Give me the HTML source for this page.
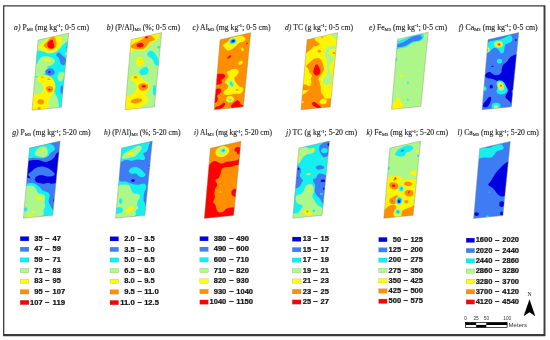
<!DOCTYPE html>
<html lang="en"><head><meta charset="utf-8"><title>Soil maps</title>
<style>
html,body{margin:0;padding:0;background:#fff;}
body{width:550px;height:340px;overflow:hidden;}
svg{display:block;}
.tt{font-family:"Liberation Serif",serif;font-size:7.5px;fill:#1a1a1a;stroke:#1a1a1a;stroke-width:0.12px;}
.lg{font-family:"Liberation Sans",sans-serif;font-weight:bold;font-size:7px;fill:#111;stroke:#111;stroke-width:0.22px;}
.sc{font-family:"Liberation Sans",sans-serif;font-size:4.7px;fill:#333;}
</style></head><body>
<svg width="550" height="340" viewBox="0 0 550 340">
<defs><filter id="soft" x="-5%" y="-5%" width="110%" height="110%"><feGaussianBlur stdDeviation="0.55"/></filter></defs>
<rect width="550" height="340" fill="#fff"/>
<!-- map a -->
<clipPath id="cp_a"><polygon points="38.1,40.1 68.7,33.1 61.3,107.3 32.0,110.2"/></clipPath>
<g clip-path="url(#cp_a)">
<g filter="url(#soft)">
<rect x="22" y="23.1" width="60" height="100" fill="#adf78a"/>
<g transform="translate(25 32) scale(0.11765)">
<path d="M95.0,178.0C105.8,148.0 132.5,164.3 150.0,165.0C167.5,165.7 181.7,180.8 200.0,182.0C218.3,183.2 243.3,179.8 260.0,172.0C276.7,164.2 287.5,147.0 300.0,135.0C312.5,123.0 321.7,107.5 335.0,100.0C348.3,92.5 372.5,49.2 380.0,90.0C387.5,130.8 429.2,302.5 380.0,345.0C330.8,387.5 132.5,372.8 85.0,345.0C37.5,317.2 84.2,208.0 95.0,178.0Z" fill="#19efef"/>
<path d="M232.0,40.0C247.5,36.2 275.0,28.7 288.0,32.0C301.0,35.3 308.0,46.7 310.0,60.0C312.0,73.3 309.2,94.5 300.0,112.0C290.8,129.5 271.7,155.0 255.0,165.0C238.3,175.0 220.0,174.2 200.0,172.0C180.0,169.8 148.7,159.8 135.0,152.0C121.3,144.2 113.8,135.3 118.0,125.0C122.2,114.7 147.2,101.7 160.0,90.0C172.8,78.3 183.0,63.3 195.0,55.0C207.0,46.7 216.5,43.8 232.0,40.0Z" fill="#fff500"/>
<path d="M215.0,52.0C225.8,44.8 242.2,39.0 250.0,42.0C257.8,45.0 259.0,59.5 262.0,70.0C265.0,80.5 270.0,93.3 268.0,105.0C266.0,116.7 260.5,132.8 250.0,140.0C239.5,147.2 218.3,150.0 205.0,148.0C191.7,146.0 177.5,134.0 170.0,128.0C162.5,122.0 157.5,119.2 160.0,112.0C162.5,104.8 175.8,95.0 185.0,85.0C194.2,75.0 204.2,59.2 215.0,52.0Z" fill="#ff8f00"/>
<path d="M195.0,90.0C199.2,83.0 208.2,73.7 215.0,70.0C221.8,66.3 231.2,63.0 236.0,68.0C240.8,73.0 241.7,90.5 244.0,100.0C246.3,109.5 252.7,118.0 250.0,125.0C247.3,132.0 236.3,140.8 228.0,142.0C219.7,143.2 206.3,137.0 200.0,132.0C193.7,127.0 190.8,119.0 190.0,112.0C189.2,105.0 190.8,97.0 195.0,90.0Z" fill="#ff0000"/>
<ellipse cx="312" cy="75" rx="11" ry="7" fill="#fff500"/>
<path d="M100.0,300.0C103.0,285.5 101.3,272.2 108.0,258.0C114.7,243.8 124.7,223.3 140.0,215.0C155.3,206.7 181.3,204.7 200.0,208.0C218.7,211.3 245.0,224.7 252.0,235.0C259.0,245.3 250.7,260.5 242.0,270.0C233.3,279.5 215.0,285.0 200.0,292.0C185.0,299.0 163.7,303.2 152.0,312.0C140.3,320.8 140.3,339.5 130.0,345.0C119.7,350.5 95.0,352.5 90.0,345.0C85.0,337.5 97.0,314.5 100.0,300.0Z" fill="#adf78a"/>
<ellipse cx="190" cy="242" rx="24" ry="14" fill="#fff500"/>
<path d="M268.0,185.0C271.3,179.8 282.7,172.3 290.0,174.0C297.3,175.7 304.3,188.2 312.0,195.0C319.7,201.8 329.5,207.5 336.0,215.0C342.5,222.5 349.3,230.8 351.0,240.0C352.7,249.2 351.2,263.0 346.0,270.0C340.8,277.0 327.7,283.3 320.0,282.0C312.3,280.7 305.0,271.5 300.0,262.0C295.0,252.5 295.0,234.5 290.0,225.0C285.0,215.5 273.7,211.7 270.0,205.0C266.3,198.3 264.7,190.2 268.0,185.0Z" fill="#3c7cf4"/>
<ellipse cx="358" cy="130" rx="6" ry="10" fill="#3c7cf4"/>
<ellipse cx="350" cy="185" rx="10" ry="12" fill="#adf78a"/>
</g>
<g transform="translate(20 72) scale(0.11765)">
<path d="M120.0,-10.0C165.8,-18.7 354.7,-62.5 395.0,-10.0C435.3,42.5 372.0,253.7 362.0,305.0C352.0,356.3 341.7,310.5 335.0,298.0C328.3,285.5 327.8,248.8 322.0,230.0C316.2,211.2 305.0,196.7 300.0,185.0C295.0,173.3 292.0,169.2 292.0,160.0C292.0,150.8 300.3,141.7 300.0,130.0C299.7,118.3 295.0,103.3 290.0,90.0C285.0,76.7 281.7,60.8 270.0,50.0C258.3,39.2 236.7,29.2 220.0,25.0C203.3,20.8 183.3,21.7 170.0,25.0C156.7,28.3 148.3,42.2 140.0,45.0C131.7,47.8 123.3,51.2 120.0,42.0C116.7,32.8 74.2,-1.3 120.0,-10.0Z" fill="#19efef"/>
<path d="M320.0,35.0C324.2,28.3 341.3,22.5 350.0,25.0C358.7,27.5 372.0,40.8 372.0,50.0C372.0,59.2 357.8,77.5 350.0,80.0C342.2,82.5 330.0,72.5 325.0,65.0C320.0,57.5 315.8,41.7 320.0,35.0Z" fill="#adf78a"/>
<ellipse cx="356" cy="150" rx="12" ry="36" fill="#3c7cf4"/>
<path d="M160.0,35.0C168.3,27.5 181.7,22.5 200.0,25.0C218.3,27.5 254.2,39.2 270.0,50.0C285.8,60.8 290.0,76.7 295.0,90.0C300.0,103.3 301.2,117.5 300.0,130.0C298.8,142.5 293.0,154.2 288.0,165.0C283.0,175.8 276.0,184.2 270.0,195.0C264.0,205.8 257.0,219.2 252.0,230.0C247.0,240.8 242.8,247.5 240.0,260.0C237.2,272.5 259.2,293.3 235.0,305.0C210.8,316.7 116.2,347.5 95.0,330.0C73.8,312.5 95.5,223.7 108.0,200.0C120.5,176.3 155.0,196.3 170.0,188.0C185.0,179.7 194.7,163.8 198.0,150.0C201.3,136.2 198.0,118.3 190.0,105.0C182.0,91.7 155.0,81.7 150.0,70.0C145.0,58.3 151.7,42.5 160.0,35.0Z" fill="#fff500"/>
<ellipse cx="190" cy="45" rx="12" ry="7" fill="#ff8f00"/>
<ellipse cx="245" cy="62" rx="14" ry="6" fill="#ff8f00"/>
<path d="M225.0,130.0C229.7,125.0 241.2,118.0 250.0,118.0C258.8,118.0 273.0,123.3 278.0,130.0C283.0,136.7 283.3,151.0 280.0,158.0C276.7,165.0 266.0,170.8 258.0,172.0C250.0,173.2 238.0,169.0 232.0,165.0C226.0,161.0 223.2,153.8 222.0,148.0C220.8,142.2 220.3,135.0 225.0,130.0Z" fill="#ff8f00"/>
<ellipse cx="250" cy="150" rx="9" ry="8" fill="#ff0000"/>
<ellipse cx="176" cy="254" rx="28" ry="22" fill="#ff8f00" transform="rotate(10 176 254)"/>
<ellipse cx="162" cy="310" rx="14" ry="13" fill="#ff8f00" transform="rotate(-30 162 310)"/>
</g>
<g transform="translate(24 60) scale(0.11765)">
<path d="M95.0,45.0C101.7,27.5 113.3,35.8 125.0,35.0C136.7,34.2 153.3,36.2 165.0,40.0C176.7,43.8 189.2,50.5 195.0,58.0C200.8,65.5 202.5,76.0 200.0,85.0C197.5,94.0 188.3,104.5 180.0,112.0C171.7,119.5 161.3,125.8 150.0,130.0C138.7,134.2 122.8,135.3 112.0,137.0C101.2,138.7 87.8,155.3 85.0,140.0C82.2,124.7 88.3,62.5 95.0,45.0Z" fill="#adf78a"/>
<path d="M180.0,95.0C182.5,87.5 195.0,78.3 205.0,75.0C215.0,71.7 230.7,70.8 240.0,75.0C249.3,79.2 259.3,91.7 261.0,100.0C262.7,108.3 257.7,119.8 250.0,125.0C242.3,130.2 225.0,131.8 215.0,131.0C205.0,130.2 195.8,126.0 190.0,120.0C184.2,114.0 177.5,102.5 180.0,95.0Z" fill="#3c7cf4"/>
<ellipse cx="215" cy="103" rx="10" ry="7" fill="#0000e0"/>
<path d="M292.0,118.0C294.5,112.5 306.7,106.7 315.0,105.0C323.3,103.3 336.2,104.2 342.0,108.0C347.8,111.8 352.0,122.7 350.0,128.0C348.0,133.3 338.3,138.3 330.0,140.0C321.7,141.7 306.3,141.7 300.0,138.0C293.7,134.3 289.5,123.5 292.0,118.0Z" fill="#adf78a"/>
</g>
</g></g>
<polygon points="38.1,40.1 68.7,33.1 61.3,107.3 32.0,110.2" fill="none" stroke="#8a8a6a" stroke-width="0.5" stroke-opacity="0.8"/>
<!-- map b -->
<clipPath id="cp_b"><polygon points="131.1,39.6 161.7,32.6 154.3,106.8 125.0,109.7"/></clipPath>
<g clip-path="url(#cp_b)">
<g filter="url(#soft)">
<rect x="115" y="22.6" width="60" height="100" fill="#adf78a"/>
<g transform="translate(118 32) scale(0.11765)">
<path d="M105.0,65.0C126.7,41.8 197.5,40.8 230.0,33.0C262.5,25.2 280.3,21.8 300.0,18.0C319.7,14.2 341.0,4.7 348.0,10.0C355.0,15.3 349.7,37.5 342.0,50.0C334.3,62.5 315.0,75.0 302.0,85.0C289.0,95.0 274.0,100.0 264.0,110.0C254.0,120.0 252.7,136.3 242.0,145.0C231.3,153.7 215.3,160.8 200.0,162.0C184.7,163.2 166.7,150.3 150.0,152.0C133.3,153.7 107.5,186.5 100.0,172.0C92.5,157.5 83.3,88.2 105.0,65.0Z" fill="#fff500"/>
<path d="M230.0,40.0C240.8,33.8 253.3,27.2 265.0,28.0C276.7,28.8 292.2,38.0 300.0,45.0C307.8,52.0 316.7,64.2 312.0,70.0C307.3,75.8 282.0,73.3 272.0,80.0C262.0,86.7 260.3,100.0 252.0,110.0C243.7,120.0 235.7,133.8 222.0,140.0C208.3,146.2 187.0,147.5 170.0,147.0C153.0,146.5 129.5,142.8 120.0,137.0C110.5,131.2 106.3,120.7 113.0,112.0C119.7,103.3 145.5,92.8 160.0,85.0C174.5,77.2 188.3,72.5 200.0,65.0C211.7,57.5 219.2,46.2 230.0,40.0Z" fill="#ff8f00"/>
<ellipse cx="188" cy="112" rx="30" ry="19" fill="#ff0000" transform="rotate(-8 188 112)"/>
<ellipse cx="242" cy="45" rx="12" ry="10" fill="#ff0000"/>
<path d="M250.0,180.0C254.2,173.3 266.3,162.0 275.0,160.0C283.7,158.0 293.5,161.7 302.0,168.0C310.5,174.3 318.7,186.0 326.0,198.0C333.3,210.0 343.2,225.5 346.0,240.0C348.8,254.5 348.7,279.3 343.0,285.0C337.3,290.7 320.0,282.3 312.0,274.0C304.0,265.7 302.0,244.8 295.0,235.0C288.0,225.2 277.5,220.8 270.0,215.0C262.5,209.2 253.3,205.8 250.0,200.0C246.7,194.2 245.8,186.7 250.0,180.0Z" fill="#19efef"/>
<ellipse cx="347" cy="130" rx="15" ry="12" fill="#19efef"/>
<path d="M160.0,225.0C165.0,215.8 175.8,208.3 185.0,210.0C194.2,211.7 209.0,226.7 215.0,235.0C221.0,243.3 223.5,251.7 221.0,260.0C218.5,268.3 208.5,279.8 200.0,285.0C191.5,290.2 177.5,294.3 170.0,291.0C162.5,287.7 156.7,276.0 155.0,265.0C153.3,254.0 155.0,234.2 160.0,225.0Z" fill="#fff500"/>
<ellipse cx="185" cy="232" rx="5" ry="4" fill="#ff8f00"/>
</g>
<g transform="translate(113 72) scale(0.11765)">
<ellipse cx="352" cy="155" rx="14" ry="45" fill="#19efef"/>
<ellipse cx="352" cy="287" rx="7" ry="6" fill="#19efef"/>
<path d="M150.0,45.0C154.2,36.7 167.5,27.5 180.0,25.0C192.5,22.5 213.3,24.2 225.0,30.0C236.7,35.8 239.2,50.0 250.0,60.0C260.8,70.0 280.0,80.0 290.0,90.0C300.0,100.0 308.3,108.3 310.0,120.0C311.7,131.7 305.8,148.3 300.0,160.0C294.2,171.7 276.7,180.0 275.0,190.0C273.3,200.0 285.0,210.8 290.0,220.0C295.0,229.2 305.8,237.5 305.0,245.0C304.2,252.5 294.2,259.2 285.0,265.0C275.8,270.8 258.3,273.3 250.0,280.0C241.7,286.7 260.8,296.7 235.0,305.0C209.2,313.3 116.5,345.8 95.0,330.0C73.5,314.2 96.8,231.7 106.0,210.0C115.2,188.3 136.8,206.7 150.0,200.0C163.2,193.3 176.7,181.7 185.0,170.0C193.3,158.3 200.0,143.3 200.0,130.0C200.0,116.7 192.5,99.2 185.0,90.0C177.5,80.8 160.8,82.5 155.0,75.0C149.2,67.5 145.8,53.3 150.0,45.0Z" fill="#fff500"/>
<ellipse cx="190" cy="45" rx="13" ry="10" fill="#ff8f00"/>
<path d="M220.0,110.0C225.0,102.5 238.3,95.8 250.0,95.0C261.7,94.2 282.0,99.2 290.0,105.0C298.0,110.8 299.7,122.5 298.0,130.0C296.3,137.5 288.8,145.0 280.0,150.0C271.2,155.0 255.0,161.7 245.0,160.0C235.0,158.3 224.2,148.3 220.0,140.0C215.8,131.7 215.0,117.5 220.0,110.0Z" fill="#ff8f00"/>
<ellipse cx="262" cy="122" rx="16" ry="12" fill="#ff0000"/>
<ellipse cx="200" cy="245" rx="50" ry="21" fill="#ff8f00" transform="rotate(-10 200 245)"/>
</g>
<g transform="translate(116 52) scale(0.11765)">
<path d="M198.0,165.0C201.0,157.0 214.3,144.0 225.0,138.0C235.7,132.0 253.5,126.2 262.0,129.0C270.5,131.8 275.8,145.5 276.0,155.0C276.2,164.5 270.3,179.2 263.0,186.0C255.7,192.8 241.3,196.0 232.0,196.0C222.7,196.0 212.7,191.2 207.0,186.0C201.3,180.8 195.0,173.0 198.0,165.0Z" fill="#19efef"/>
</g>
</g></g>
<polygon points="131.1,39.6 161.7,32.6 154.3,106.8 125.0,109.7" fill="none" stroke="#8a8a6a" stroke-width="0.5" stroke-opacity="0.8"/>
<!-- map c -->
<clipPath id="cp_c"><polygon points="220.1,39.7 250.7,32.7 243.3,106.9 214.0,109.8"/></clipPath>
<g clip-path="url(#cp_c)">
<g filter="url(#soft)">
<rect x="204" y="22.7" width="60" height="100" fill="#ff8f00"/>
<g transform="translate(207 32) scale(0.11765)">
<path d="M135.0,110.0C139.2,102.2 164.2,94.2 175.0,85.0C185.8,75.8 187.5,62.8 200.0,55.0C212.5,47.2 233.3,41.7 250.0,38.0C266.7,34.3 287.2,29.3 300.0,33.0C312.8,36.7 325.3,52.2 327.0,60.0C328.7,67.8 319.5,74.2 310.0,80.0C300.5,85.8 281.7,87.5 270.0,95.0C258.3,102.5 251.7,115.8 240.0,125.0C228.3,134.2 211.7,144.8 200.0,150.0C188.3,155.2 178.3,159.0 170.0,156.0C161.7,153.0 155.8,139.7 150.0,132.0C144.2,124.3 130.8,117.8 135.0,110.0Z" fill="#fff500"/>
<ellipse cx="218" cy="80" rx="36" ry="27" fill="#adf78a" transform="rotate(-20 218 80)"/>
<ellipse cx="219" cy="79" rx="28" ry="21" fill="#19efef" transform="rotate(-20 219 79)"/>
<ellipse cx="221" cy="78" rx="20" ry="15" fill="#3c7cf4" transform="rotate(-15 221 78)"/>
<ellipse cx="224" cy="76" rx="11" ry="8" fill="#0000e0" transform="rotate(-10 224 76)"/>
<ellipse cx="340" cy="97" rx="10" ry="5" fill="#ff0000" transform="rotate(-30 340 97)"/>
<ellipse cx="190" cy="213" rx="21" ry="8" fill="#ff0000" transform="rotate(-40 190 213)"/>
<ellipse cx="300" cy="148" rx="11" ry="16" fill="#fff500" transform="rotate(-20 300 148)"/>
<ellipse cx="285" cy="262" rx="22" ry="15" fill="#fff500" transform="rotate(-35 285 262)"/>
<ellipse cx="228" cy="340" rx="42" ry="25" fill="#fff500" transform="rotate(-8 228 340)"/>
</g>
<g transform="translate(202 72) scale(0.11765)">
<path d="M215.0,-5.0C228.2,-12.5 291.7,-10.8 305.0,-5.0C318.3,0.8 300.0,20.5 295.0,30.0C290.0,39.5 276.2,42.0 275.0,52.0C273.8,62.0 280.5,77.8 288.0,90.0C295.5,102.2 309.7,117.5 320.0,125.0C330.3,132.5 345.8,128.3 350.0,135.0C354.2,141.7 350.0,156.7 345.0,165.0C340.0,173.3 330.8,181.7 320.0,185.0C309.2,188.3 295.0,183.2 280.0,185.0C265.0,186.8 245.0,195.2 230.0,196.0C215.0,196.8 197.5,195.2 190.0,190.0C182.5,184.8 180.8,173.3 185.0,165.0C189.2,156.7 208.8,148.3 215.0,140.0C221.2,131.7 225.2,123.3 222.0,115.0C218.8,106.7 198.3,98.8 196.0,90.0C193.7,81.2 203.0,70.3 208.0,62.0C213.0,53.7 224.8,51.2 226.0,40.0C227.2,28.8 201.8,2.5 215.0,-5.0Z" fill="#fff500"/>
<ellipse cx="246" cy="100" rx="23" ry="32" fill="#adf78a" transform="rotate(-28 246 100)"/>
<ellipse cx="250" cy="102" rx="12" ry="21" fill="#19efef" transform="rotate(-28 250 102)"/>
<ellipse cx="298" cy="152" rx="12" ry="8" fill="#ff8f00"/>
<ellipse cx="238" cy="232" rx="32" ry="27" fill="#fff500"/>
<ellipse cx="238" cy="235" rx="18" ry="14" fill="#adf78a"/>
<ellipse cx="240" cy="238" rx="8" ry="6" fill="#19efef"/>
<path d="M115.0,30.0C122.5,15.8 146.7,15.8 160.0,15.0C173.3,14.2 190.0,19.2 195.0,25.0C200.0,30.8 195.0,43.3 190.0,50.0C185.0,56.7 168.3,58.3 165.0,65.0C161.7,71.7 172.5,83.3 170.0,90.0C167.5,96.7 159.2,103.3 150.0,105.0C140.8,106.7 120.8,112.5 115.0,100.0C109.2,87.5 107.5,44.2 115.0,30.0Z" fill="#ff0000"/>
<path d="M110.0,150.0C118.3,143.3 140.8,138.3 150.0,140.0C159.2,141.7 165.0,152.5 165.0,160.0C165.0,167.5 155.8,178.3 150.0,185.0C144.2,191.7 132.5,192.5 130.0,200.0C127.5,207.5 135.8,220.8 135.0,230.0C134.2,239.2 131.7,250.3 125.0,255.0C118.3,259.7 99.2,270.5 95.0,258.0C90.8,245.5 97.5,198.0 100.0,180.0C102.5,162.0 101.7,156.7 110.0,150.0Z" fill="#ff0000"/>
<path d="M115.0,300.0C122.5,293.3 148.3,286.7 160.0,280.0C171.7,273.3 179.0,260.8 185.0,260.0C191.0,259.2 196.8,268.3 196.0,275.0C195.2,281.7 187.7,293.3 180.0,300.0C172.3,306.7 160.8,311.7 150.0,315.0C139.2,318.3 120.8,322.5 115.0,320.0C109.2,317.5 107.5,306.7 115.0,300.0Z" fill="#ff0000"/>
<path d="M245.0,290.0C245.8,283.2 255.8,273.3 265.0,265.0C274.2,256.7 290.8,241.7 300.0,240.0C309.2,238.3 315.0,249.2 320.0,255.0C325.0,260.8 324.2,269.2 330.0,275.0C335.8,280.8 360.0,285.5 355.0,290.0C350.0,294.5 315.8,299.3 300.0,302.0C284.2,304.7 269.2,308.0 260.0,306.0C250.8,304.0 244.2,296.8 245.0,290.0Z" fill="#ff0000"/>
</g>
</g></g>
<polygon points="220.1,39.7 250.7,32.7 243.3,106.9 214.0,109.8" fill="none" stroke="#8a8a6a" stroke-width="0.5" stroke-opacity="0.8"/>
<!-- map d -->
<clipPath id="cp_d"><polygon points="307.1,39.7 337.7,32.7 330.3,106.9 301.0,109.8"/></clipPath>
<g clip-path="url(#cp_d)">
<g filter="url(#soft)">
<rect x="291" y="22.7" width="60" height="100" fill="#fff500"/>
<g transform="translate(294 32) scale(0.11765)">
<path d="M100.0,60.0C112.5,39.7 155.8,47.5 170.0,50.0C184.2,52.5 177.3,66.7 185.0,75.0C192.7,83.3 213.5,93.2 216.0,100.0C218.5,106.8 208.5,111.8 200.0,116.0C191.5,120.2 176.7,117.7 165.0,125.0C153.3,132.3 141.7,152.2 130.0,160.0C118.3,167.8 100.0,188.7 95.0,172.0C90.0,155.3 87.5,80.3 100.0,60.0Z" fill="#ff8f00"/>
<ellipse cx="240" cy="45" rx="8" ry="8" fill="#ff8f00"/>
<ellipse cx="215" cy="163" rx="15" ry="12" fill="#ff8f00"/>
<ellipse cx="340" cy="178" rx="13" ry="9" fill="#ff8f00"/>
<path d="M325.0,20.0C335.0,12.5 380.0,-7.0 390.0,0.0C400.0,7.0 391.7,52.7 385.0,62.0C378.3,71.3 359.2,58.8 350.0,56.0C340.8,53.2 334.2,51.0 330.0,45.0C325.8,39.0 315.0,27.5 325.0,20.0Z" fill="#adf78a"/>
<path d="M265.0,150.0C269.5,139.2 275.8,131.0 285.0,125.0C294.2,119.0 308.8,114.8 320.0,114.0C331.2,113.2 346.2,115.7 352.0,120.0C357.8,124.3 360.3,135.7 355.0,140.0C349.7,144.3 329.2,142.7 320.0,146.0C310.8,149.3 304.2,152.7 300.0,160.0C295.8,167.3 293.3,180.8 295.0,190.0C296.7,199.2 310.0,207.3 310.0,215.0C310.0,222.7 301.7,234.2 295.0,236.0C288.3,237.8 276.2,233.7 270.0,226.0C263.8,218.3 258.8,202.7 258.0,190.0C257.2,177.3 260.5,160.8 265.0,150.0Z" fill="#adf78a"/>
<path d="M92.0,292.0C99.0,277.8 118.7,274.5 130.0,265.0C141.3,255.5 148.3,242.2 160.0,235.0C171.7,227.8 187.3,220.3 200.0,222.0C212.7,223.7 226.7,233.7 236.0,245.0C245.3,256.3 251.0,272.5 256.0,290.0C261.0,307.5 294.0,340.0 266.0,350.0C238.0,360.0 117.0,359.7 88.0,350.0C59.0,340.3 85.0,306.2 92.0,292.0Z" fill="#ff8f00"/>
<path d="M165.0,350.0C156.0,342.5 170.0,316.7 175.0,305.0C180.0,293.3 188.2,280.8 195.0,280.0C201.8,279.2 210.3,288.3 216.0,300.0C221.7,311.7 237.5,341.7 229.0,350.0C220.5,358.3 174.0,357.5 165.0,350.0Z" fill="#ff0000"/>
<path d="M288.0,305.0C293.8,293.7 309.0,282.8 318.0,282.0C327.0,281.2 338.7,288.7 342.0,300.0C345.3,311.3 347.8,341.7 338.0,350.0C328.2,358.3 291.3,357.5 283.0,350.0C274.7,342.5 282.2,316.3 288.0,305.0Z" fill="#adf78a"/>
</g>
<g transform="translate(289 72) scale(0.11765)">
<path d="M290.0,60.0C292.5,49.2 308.3,41.7 320.0,35.0C331.7,28.3 347.5,23.3 360.0,20.0C372.5,16.7 390.8,1.7 395.0,15.0C399.2,28.3 394.2,84.8 385.0,100.0C375.8,115.2 353.3,106.0 340.0,106.0C326.7,106.0 313.3,107.7 305.0,100.0C296.7,92.3 287.5,70.8 290.0,60.0Z" fill="#adf78a"/>
<path d="M180.0,-8.0C196.3,-14.3 273.8,-17.7 288.0,-8.0C302.2,1.7 267.2,32.0 265.0,50.0C262.8,68.0 275.0,83.3 275.0,100.0C275.0,116.7 262.5,133.3 265.0,150.0C267.5,166.7 282.5,187.5 290.0,200.0C297.5,212.5 301.7,220.8 310.0,225.0C318.3,229.2 330.8,223.3 340.0,225.0C349.2,226.7 361.7,221.7 365.0,235.0C368.3,248.3 406.7,289.2 360.0,305.0C313.3,320.8 129.0,340.8 85.0,330.0C41.0,319.2 91.8,261.7 96.0,240.0C100.2,218.3 101.0,211.7 110.0,200.0C119.0,188.3 139.2,180.8 150.0,170.0C160.8,159.2 169.2,148.3 175.0,135.0C180.8,121.7 180.8,102.5 185.0,90.0C189.2,77.5 199.2,70.0 200.0,60.0C200.8,50.0 193.3,41.3 190.0,30.0C186.7,18.7 163.7,-1.7 180.0,-8.0Z" fill="#ff8f00"/>
<path d="M112.0,115.0C118.3,107.2 138.7,103.3 150.0,105.0C161.3,106.7 178.3,117.5 180.0,125.0C181.7,132.5 171.3,145.5 160.0,150.0C148.7,154.5 120.0,157.8 112.0,152.0C104.0,146.2 105.7,122.8 112.0,115.0Z" fill="#ff8f00"/>
<path d="M265.0,240.0C270.5,233.8 285.8,225.0 295.0,225.0C304.2,225.0 316.7,233.3 320.0,240.0C323.3,246.7 321.7,259.2 315.0,265.0C308.3,270.8 288.8,275.5 280.0,275.0C271.2,274.5 264.5,267.8 262.0,262.0C259.5,256.2 259.5,246.2 265.0,240.0Z" fill="#fff500"/>
<ellipse cx="114" cy="255" rx="10" ry="10" fill="#fff500"/>
<ellipse cx="232" cy="3" rx="28" ry="20" fill="#ff0000"/>
<path d="M195.0,265.0C195.8,259.2 206.7,253.3 215.0,255.0C223.3,256.7 235.5,267.2 245.0,275.0C254.5,282.8 272.8,296.8 272.0,302.0C271.2,307.2 250.3,308.0 240.0,306.0C229.7,304.0 217.5,296.8 210.0,290.0C202.5,283.2 194.2,270.8 195.0,265.0Z" fill="#ff0000"/>
</g>
<g transform="translate(292 52) scale(0.11765)">
<polygon points="60,75 420,75 420,290 60,290" fill="#fff500"/>
<path d="M285.0,30.0C286.7,21.7 300.0,19.2 310.0,20.0C320.0,20.8 338.0,26.7 345.0,35.0C352.0,43.3 354.2,60.0 352.0,70.0C349.8,80.0 338.7,86.7 332.0,95.0C325.3,103.3 313.7,110.8 312.0,120.0C310.3,129.2 317.8,139.2 322.0,150.0C326.2,160.8 333.7,171.7 337.0,185.0C340.3,198.3 342.8,216.7 342.0,230.0C341.2,243.3 339.8,256.5 332.0,265.0C324.2,273.5 306.2,280.8 295.0,281.0C283.8,281.2 270.7,273.7 265.0,266.0C259.3,258.3 257.7,245.2 261.0,235.0C264.3,224.8 278.5,215.0 285.0,205.0C291.5,195.0 298.3,185.8 300.0,175.0C301.7,164.2 296.7,152.5 295.0,140.0C293.3,127.5 289.2,111.7 290.0,100.0C290.8,88.3 300.8,81.7 300.0,70.0C299.2,58.3 283.3,38.3 285.0,30.0Z" fill="#adf78a"/>
<path d="M120.0,122.0C122.0,113.3 138.3,100.3 150.0,90.0C161.7,79.7 177.5,66.0 190.0,60.0C202.5,54.0 215.0,51.5 225.0,54.0C235.0,56.5 243.3,65.7 250.0,75.0C256.7,84.3 261.5,97.5 265.0,110.0C268.5,122.5 272.7,138.3 271.0,150.0C269.3,161.7 260.2,171.7 255.0,180.0C249.8,188.3 245.0,191.7 240.0,200.0C235.0,208.3 225.8,220.0 225.0,230.0C224.2,240.0 232.2,248.3 235.0,260.0C237.8,271.7 241.5,285.0 242.0,300.0C242.5,315.0 253.3,341.7 238.0,350.0C222.7,358.3 164.2,358.3 150.0,350.0C135.8,341.7 150.5,315.0 153.0,300.0C155.5,285.0 163.8,271.7 165.0,260.0C166.2,248.3 159.2,240.0 160.0,230.0C160.8,220.0 171.7,209.2 170.0,200.0C168.3,190.8 155.3,184.7 150.0,175.0C144.7,165.3 143.0,150.8 138.0,142.0C133.0,133.2 118.0,130.7 120.0,122.0Z" fill="#ff8f00"/>
<path d="M195.0,120.0C200.2,109.8 206.5,103.2 212.0,104.0C217.5,104.8 223.2,115.7 228.0,125.0C232.8,134.3 240.3,149.2 241.0,160.0C241.7,170.8 237.2,183.2 232.0,190.0C226.8,196.8 217.0,201.0 210.0,201.0C203.0,201.0 194.8,196.0 190.0,190.0C185.2,184.0 180.2,176.7 181.0,165.0C181.8,153.3 189.8,130.2 195.0,120.0Z" fill="#ff0000"/>
<path d="M80.0,290.0C85.0,283.2 100.8,275.0 110.0,275.0C119.2,275.0 129.8,284.2 135.0,290.0C140.2,295.8 145.2,304.8 141.0,310.0C136.8,315.2 120.2,320.0 110.0,321.0C99.8,322.0 85.0,321.2 80.0,316.0C75.0,310.8 75.0,296.8 80.0,290.0Z" fill="#ff8f00"/>
</g>
</g></g>
<polygon points="307.1,39.7 337.7,32.7 330.3,106.9 301.0,109.8" fill="none" stroke="#8a8a6a" stroke-width="0.5" stroke-opacity="0.8"/>
<!-- map e -->
<clipPath id="cp_e"><polygon points="397.6,39.2 428.2,32.2 420.8,106.4 391.5,109.3"/></clipPath>
<g clip-path="url(#cp_e)">
<g filter="url(#soft)">
<rect x="381.5" y="22.2" width="60" height="100" fill="#adf78a"/>
<g transform="translate(384 31) scale(0.11765)">
<path d="M100.0,95.0C108.3,82.2 133.3,81.7 150.0,75.0C166.7,68.3 185.0,61.7 200.0,55.0C215.0,48.3 223.3,40.8 240.0,35.0C256.7,29.2 284.7,21.7 300.0,20.0C315.3,18.3 326.0,18.3 332.0,25.0C338.0,31.7 339.7,50.0 336.0,60.0C332.3,70.0 322.7,79.2 310.0,85.0C297.3,90.8 275.0,90.0 260.0,95.0C245.0,100.0 231.7,108.3 220.0,115.0C208.3,121.7 203.3,129.8 190.0,135.0C176.7,140.2 155.0,143.2 140.0,146.0C125.0,148.8 106.7,160.5 100.0,152.0C93.3,143.5 91.7,107.8 100.0,95.0Z" fill="#19efef"/>
<path d="M100.0,120.0C108.3,113.8 135.0,106.7 150.0,100.0C165.0,93.3 177.5,87.5 190.0,80.0C202.5,72.5 211.7,61.7 225.0,55.0C238.3,48.3 255.8,42.8 270.0,40.0C284.2,37.2 301.3,34.7 310.0,38.0C318.7,41.3 323.7,53.0 322.0,60.0C320.3,67.0 312.0,75.3 300.0,80.0C288.0,84.7 264.2,83.3 250.0,88.0C235.8,92.7 225.8,101.8 215.0,108.0C204.2,114.2 197.5,120.5 185.0,125.0C172.5,129.5 154.2,133.0 140.0,135.0C125.8,137.0 106.7,139.5 100.0,137.0C93.3,134.5 91.7,126.2 100.0,120.0Z" fill="#3c7cf4"/>
<ellipse cx="97" cy="243" rx="12" ry="20" fill="#19efef"/>
<ellipse cx="96" cy="243" rx="8" ry="14" fill="#3c7cf4"/>
</g>
<g transform="translate(379 71) scale(0.11765)">
<ellipse cx="192" cy="40" rx="12" ry="12" fill="#fff500"/>
<ellipse cx="245" cy="100" rx="8" ry="8" fill="#19efef"/>
<ellipse cx="245" cy="243" rx="8" ry="8" fill="#19efef"/>
<path d="M88.0,330.0C73.7,325.0 101.3,302.5 110.0,290.0C118.7,277.5 131.7,265.8 140.0,255.0C148.3,244.2 153.7,228.3 160.0,225.0C166.3,221.7 173.8,228.3 178.0,235.0C182.2,241.7 181.3,255.8 185.0,265.0C188.7,274.2 198.2,280.8 200.0,290.0C201.8,299.2 214.7,313.3 196.0,320.0C177.3,326.7 102.3,335.0 88.0,330.0Z" fill="#fff500"/>
</g>
</g></g>
<polygon points="397.6,39.2 428.2,32.2 420.8,106.4 391.5,109.3" fill="none" stroke="#8a8a6a" stroke-width="0.5" stroke-opacity="0.8"/>
<!-- map f -->
<clipPath id="cp_f"><polygon points="488.1,39.6 518.7,32.6 511.3,106.8 482.0,109.7"/></clipPath>
<g clip-path="url(#cp_f)">
<g filter="url(#soft)">
<rect x="472" y="22.6" width="60" height="100" fill="#3c7cf4"/>
<g transform="translate(473 52) scale(0.11765)">
<path d="M400.0,10.0C397.5,-66.7 395.0,11.7 385.0,15.0C375.0,18.3 352.5,24.2 340.0,30.0C327.5,35.8 318.3,41.7 310.0,50.0C301.7,58.3 298.3,70.8 290.0,80.0C281.7,89.2 267.5,95.0 260.0,105.0C252.5,115.0 248.3,128.3 245.0,140.0C241.7,151.7 245.0,165.8 240.0,175.0C235.0,184.2 224.2,191.7 215.0,195.0C205.8,198.3 194.2,197.5 185.0,195.0C175.8,192.5 167.5,184.2 160.0,180.0C152.5,175.8 147.5,170.0 140.0,170.0C132.5,170.0 122.0,175.0 115.0,180.0C108.0,185.0 98.5,194.0 98.0,200.0C97.5,206.0 103.3,211.7 112.0,216.0C120.7,220.3 137.8,222.7 150.0,226.0C162.2,229.3 174.2,232.0 185.0,236.0C195.8,240.0 205.0,248.3 215.0,250.0C225.0,251.7 236.7,242.7 245.0,246.0C253.3,249.3 258.3,261.0 265.0,270.0C271.7,279.0 278.8,290.8 285.0,300.0C291.2,309.2 301.2,316.7 302.0,325.0C302.8,333.3 294.3,340.5 290.0,350.0C285.7,359.5 274.3,372.0 276.0,382.0C277.7,392.0 293.0,402.3 300.0,410.0C307.0,417.7 311.7,417.2 318.0,428.0C324.3,438.8 324.3,467.2 338.0,475.0C351.7,482.8 389.7,552.5 400.0,475.0C410.3,397.5 402.5,86.7 400.0,10.0Z" fill="#0000e0"/>
</g>
<g transform="translate(475 32) scale(0.11765)">
<path d="M110.0,95.0C118.3,78.0 135.0,79.8 150.0,75.0C165.0,70.2 183.3,70.5 200.0,66.0C216.7,61.5 233.3,54.3 250.0,48.0C266.7,41.7 288.5,26.0 300.0,28.0C311.5,30.0 319.0,49.7 319.0,60.0C319.0,70.3 309.8,82.5 300.0,90.0C290.2,97.5 268.3,96.7 260.0,105.0C251.7,113.3 252.5,129.2 250.0,140.0C247.5,150.8 250.0,163.2 245.0,170.0C240.0,176.8 227.5,184.3 220.0,181.0C212.5,177.7 210.0,157.7 200.0,150.0C190.0,142.3 172.5,132.5 160.0,135.0C147.5,137.5 135.0,158.0 125.0,165.0C115.0,172.0 102.5,188.7 100.0,177.0C97.5,165.3 101.7,112.0 110.0,95.0Z" fill="#19efef"/>
<ellipse cx="200" cy="105" rx="38" ry="28" fill="#adf78a"/>
<ellipse cx="202" cy="105" rx="26" ry="20" fill="#fff500"/>
<ellipse cx="204" cy="106" rx="15" ry="12" fill="#ff8f00"/>
<ellipse cx="206" cy="107" rx="7" ry="6" fill="#ff0000"/>
<ellipse cx="108" cy="150" rx="18" ry="22" fill="#adf78a"/>
<ellipse cx="106" cy="151" rx="12" ry="16" fill="#fff500"/>
<ellipse cx="104" cy="152" rx="7" ry="10" fill="#ff8f00"/>
<ellipse cx="208" cy="248" rx="22" ry="20" fill="#19efef"/>
<ellipse cx="348" cy="68" rx="10" ry="7" fill="#0000e0"/>
<ellipse cx="148" cy="292" rx="10" ry="6" fill="#0000e0"/>
</g>
<g transform="translate(470 72) scale(0.11765)">
<ellipse cx="362" cy="165" rx="8" ry="15" fill="#3c7cf4"/>
<ellipse cx="180" cy="125" rx="14" ry="16" fill="#0000e0"/>
<path d="M130.0,250.0C137.3,241.7 151.7,220.8 160.0,215.0C168.3,209.2 177.5,209.2 180.0,215.0C182.5,220.8 178.3,239.2 175.0,250.0C171.7,260.8 165.8,271.7 160.0,280.0C154.2,288.3 148.0,297.3 140.0,300.0C132.0,302.7 116.0,301.8 112.0,296.0C108.0,290.2 113.0,272.7 116.0,265.0C119.0,257.3 122.7,258.3 130.0,250.0Z" fill="#0000e0"/>
<path d="M225.0,90.0C227.5,80.0 240.0,70.8 250.0,70.0C260.0,69.2 275.8,76.7 285.0,85.0C294.2,93.3 300.0,107.5 305.0,120.0C310.0,132.5 316.7,149.2 315.0,160.0C313.3,170.8 305.8,180.0 295.0,185.0C284.2,190.0 261.7,193.3 250.0,190.0C238.3,186.7 227.5,175.0 225.0,165.0C222.5,155.0 235.0,142.5 235.0,130.0C235.0,117.5 222.5,100.0 225.0,90.0Z" fill="#19efef"/>
<ellipse cx="262" cy="122" rx="27" ry="38" fill="#adf78a" transform="rotate(-20 262 122)"/>
<ellipse cx="258" cy="112" rx="19" ry="26" fill="#fff500" transform="rotate(-25 258 112)"/>
<ellipse cx="262" cy="116" rx="10" ry="10" fill="#ff8f00"/>
<ellipse cx="263" cy="117" rx="4" ry="4" fill="#ff0000"/>
<ellipse cx="126" cy="140" rx="14" ry="22" fill="#19efef"/>
<ellipse cx="120" cy="140" rx="6" ry="10" fill="#adf78a"/>
<ellipse cx="222" cy="290" rx="38" ry="28" fill="#19efef"/>
<ellipse cx="222" cy="298" rx="20" ry="16" fill="#adf78a"/>
<ellipse cx="220" cy="302" rx="9" ry="8" fill="#fff500"/>
</g>
</g></g>
<polygon points="488.1,39.6 518.7,32.6 511.3,106.8 482.0,109.7" fill="none" stroke="#8a8a6a" stroke-width="0.5" stroke-opacity="0.8"/>
<!-- map g -->
<clipPath id="cp_g"><polygon points="29.5,148.1 60.1,141.1 52.7,215.3 23.4,218.2"/></clipPath>
<g clip-path="url(#cp_g)">
<g filter="url(#soft)">
<rect x="13.4" y="131.1" width="60" height="100" fill="#3c7cf4"/>
<g transform="translate(16 140) scale(0.11765)">
<path d="M100.0,82.0C117.0,65.0 170.0,57.8 200.0,50.0C230.0,42.2 260.0,35.0 280.0,35.0C300.0,35.0 311.7,42.5 320.0,50.0C328.3,57.5 333.3,70.8 330.0,80.0C326.7,89.2 310.0,95.0 300.0,105.0C290.0,115.0 283.3,131.5 270.0,140.0C256.7,148.5 240.0,154.2 220.0,156.0C200.0,157.8 170.3,151.7 150.0,151.0C129.7,150.3 106.3,163.5 98.0,152.0C89.7,140.5 83.0,99.0 100.0,82.0Z" fill="#19efef"/>
<path d="M160.0,110.0C163.3,101.2 174.2,84.2 185.0,75.0C195.8,65.8 212.5,56.7 225.0,55.0C237.5,53.3 252.5,57.5 260.0,65.0C267.5,72.5 269.2,89.2 270.0,100.0C270.8,110.8 270.8,122.3 265.0,130.0C259.2,137.7 246.7,144.2 235.0,146.0C223.3,147.8 206.7,144.0 195.0,141.0C183.3,138.0 170.8,133.2 165.0,128.0C159.2,122.8 156.7,118.8 160.0,110.0Z" fill="#adf78a"/>
<ellipse cx="228" cy="87" rx="12" ry="11" fill="#fff500"/>
<path d="M95.0,185.0C107.5,171.7 132.5,172.2 150.0,170.0C167.5,167.8 183.3,169.3 200.0,172.0C216.7,174.7 233.3,186.3 250.0,186.0C266.7,185.7 286.7,177.7 300.0,170.0C313.3,162.3 322.5,149.2 330.0,140.0C337.5,130.8 335.0,121.3 345.0,115.0C355.0,108.7 384.2,62.8 390.0,102.0C395.8,141.2 431.7,308.7 380.0,350.0C328.3,391.3 130.8,366.7 80.0,350.0C29.2,333.3 72.5,277.5 75.0,250.0C77.5,222.5 82.5,198.3 95.0,185.0Z" fill="#0000e0"/>
</g>
<g transform="translate(14 160) scale(0.11765)">
<path d="M120.0,122.0C122.5,113.7 140.0,103.7 150.0,95.0C160.0,86.3 166.7,76.7 180.0,70.0C193.3,63.3 213.3,55.8 230.0,55.0C246.7,54.2 265.0,59.2 280.0,65.0C295.0,70.8 309.0,80.8 320.0,90.0C331.0,99.2 344.3,112.3 346.0,120.0C347.7,127.7 339.3,132.5 330.0,136.0C320.7,139.5 303.3,141.8 290.0,141.0C276.7,140.2 263.3,132.7 250.0,131.0C236.7,129.3 220.8,128.7 210.0,131.0C199.2,133.3 190.7,139.2 185.0,145.0C179.3,150.8 181.8,162.2 176.0,166.0C170.2,169.8 156.8,171.5 150.0,168.0C143.2,164.5 140.0,152.7 135.0,145.0C130.0,137.3 117.5,130.3 120.0,122.0Z" fill="#3c7cf4"/>
<path d="M95.0,168.0C107.5,136.3 136.2,160.0 150.0,160.0C163.8,160.0 172.0,164.0 178.0,168.0C184.0,172.0 180.7,179.7 186.0,184.0C191.3,188.3 199.3,190.8 210.0,194.0C220.7,197.2 236.7,203.2 250.0,203.0C263.3,202.8 276.7,191.5 290.0,193.0C303.3,194.5 315.8,205.2 330.0,212.0C344.2,218.8 365.8,211.0 375.0,234.0C384.2,257.0 435.0,330.7 385.0,350.0C335.0,369.3 123.3,380.3 75.0,350.0C26.7,319.7 82.5,199.7 95.0,168.0Z" fill="#3c7cf4"/>
</g>
<g transform="translate(11 180) scale(0.11765)">
<path d="M118.0,40.0C123.0,15.0 128.0,32.3 135.0,30.0C142.0,27.7 149.2,26.0 160.0,26.0C170.8,26.0 186.7,24.7 200.0,30.0C213.3,35.3 228.3,48.0 240.0,58.0C251.7,68.0 258.3,82.2 270.0,90.0C281.7,97.8 300.0,98.3 310.0,105.0C320.0,111.7 328.3,117.5 330.0,130.0C331.7,142.5 318.3,163.3 320.0,180.0C321.7,196.7 333.7,209.2 340.0,230.0C346.3,250.8 399.7,287.5 358.0,305.0C316.3,322.5 132.2,355.8 90.0,335.0C47.8,314.2 100.3,229.2 105.0,180.0C109.7,130.8 113.0,65.0 118.0,40.0Z" fill="#19efef"/>
<path d="M210.0,-8.0C184.2,-3.3 226.7,14.0 240.0,20.0C253.3,26.0 273.3,28.3 290.0,28.0C306.7,27.7 322.5,24.0 340.0,18.0C357.5,12.0 416.7,-3.7 395.0,-8.0C373.3,-12.3 235.8,-12.7 210.0,-8.0Z" fill="#0000e0"/>
<ellipse cx="366" cy="175" rx="6" ry="15" fill="#0000e0"/>
<path d="M120.0,70.0C127.5,45.0 138.3,53.3 150.0,50.0C161.7,46.7 179.2,45.0 190.0,50.0C200.8,55.0 208.3,70.0 215.0,80.0C221.7,90.0 221.7,103.3 230.0,110.0C238.3,116.7 255.0,114.2 265.0,120.0C275.0,125.8 286.7,133.3 290.0,145.0C293.3,156.7 285.0,176.7 285.0,190.0C285.0,203.3 291.7,213.3 290.0,225.0C288.3,236.7 279.2,246.7 275.0,260.0C270.8,273.3 295.8,292.5 265.0,305.0C234.2,317.5 116.7,352.5 90.0,335.0C63.3,317.5 100.0,244.2 105.0,200.0C110.0,155.8 112.5,95.0 120.0,70.0Z" fill="#adf78a"/>
<ellipse cx="238" cy="155" rx="24" ry="17" fill="#fff500"/>
<ellipse cx="190" cy="275" rx="10" ry="10" fill="#fff500"/>
<ellipse cx="165" cy="310" rx="20" ry="10" fill="#fff500" transform="rotate(-10 165 310)"/>
<ellipse cx="124" cy="250" rx="16" ry="18" fill="#19efef"/>
<ellipse cx="135" cy="190" rx="5" ry="5" fill="#19efef"/>
</g>
</g></g>
<polygon points="29.5,148.1 60.1,141.1 52.7,215.3 23.4,218.2" fill="none" stroke="#8a8a6a" stroke-width="0.5" stroke-opacity="0.8"/>
<!-- map h -->
<clipPath id="cp_h"><polygon points="121.7,148.1 152.3,141.1 144.9,215.3 115.6,218.2"/></clipPath>
<g clip-path="url(#cp_h)">
<g filter="url(#soft)">
<rect x="105.6" y="131.1" width="60" height="100" fill="#3c7cf4"/>
<g transform="translate(108 140) scale(0.11765)">
<path d="M100.0,70.0C139.5,41.0 294.0,11.3 335.0,8.0C376.0,4.7 346.8,35.5 346.0,50.0C345.2,64.5 337.7,84.2 330.0,95.0C322.3,105.8 302.5,105.8 300.0,115.0C297.5,124.2 315.0,140.8 315.0,150.0C315.0,159.2 310.8,167.5 300.0,170.0C289.2,172.5 266.7,164.0 250.0,165.0C233.3,166.0 216.7,175.0 200.0,176.0C183.3,177.0 167.0,170.0 150.0,171.0C133.0,172.0 106.3,198.8 98.0,182.0C89.7,165.2 60.5,99.0 100.0,70.0Z" fill="#19efef"/>
<path d="M120.0,155.0C117.5,150.0 118.3,139.2 125.0,130.0C131.7,120.8 145.8,109.2 160.0,100.0C174.2,90.8 195.0,83.3 210.0,75.0C225.0,66.7 237.3,53.3 250.0,50.0C262.7,46.7 281.0,49.2 286.0,55.0C291.0,60.8 285.2,75.0 280.0,85.0C274.8,95.0 263.3,105.8 255.0,115.0C246.7,124.2 242.5,134.0 230.0,140.0C217.5,146.0 195.0,147.7 180.0,151.0C165.0,154.3 150.0,159.3 140.0,160.0C130.0,160.7 122.5,160.0 120.0,155.0Z" fill="#adf78a"/>
<ellipse cx="190" cy="115" rx="28" ry="13" fill="#fff500" transform="rotate(-10 190 115)"/>
<path d="M180.0,255.0C183.7,248.8 190.0,239.2 200.0,235.0C210.0,230.8 226.7,227.5 240.0,230.0C253.3,232.5 268.3,241.7 280.0,250.0C291.7,258.3 303.5,271.7 310.0,280.0C316.5,288.3 322.3,294.0 319.0,300.0C315.7,306.0 299.8,315.2 290.0,316.0C280.2,316.8 268.3,310.2 260.0,305.0C251.7,299.8 250.0,288.2 240.0,285.0C230.0,281.8 210.3,288.2 200.0,286.0C189.7,283.8 181.3,277.2 178.0,272.0C174.7,266.8 176.3,261.2 180.0,255.0Z" fill="#19efef"/>
<ellipse cx="351" cy="218" rx="5" ry="5" fill="#0000e0"/>
<ellipse cx="350" cy="245" rx="5" ry="5" fill="#0000e0"/>
</g>
<g transform="translate(103 180) scale(0.11765)">
<ellipse cx="255" cy="5" rx="15" ry="12" fill="#0000e0"/>
<path d="M120.0,30.0C132.0,-23.3 146.7,17.5 160.0,15.0C173.3,12.5 185.0,11.7 200.0,15.0C215.0,18.3 233.3,30.8 250.0,35.0C266.7,39.2 283.3,40.8 300.0,40.0C316.7,39.2 338.7,26.7 350.0,30.0C361.3,33.3 368.0,46.7 368.0,60.0C368.0,73.3 353.8,91.7 350.0,110.0C346.2,128.3 344.0,155.0 345.0,170.0C346.0,185.0 352.7,177.5 356.0,200.0C359.3,222.5 409.7,282.5 365.0,305.0C320.3,327.5 128.8,380.8 88.0,335.0C47.2,289.2 108.0,83.3 120.0,30.0Z" fill="#19efef"/>
<path d="M126.0,65.0C137.7,30.0 159.3,43.3 175.0,40.0C190.7,36.7 209.2,38.3 220.0,45.0C230.8,51.7 234.2,69.2 240.0,80.0C245.8,90.8 245.0,103.3 255.0,110.0C265.0,116.7 290.0,114.2 300.0,120.0C310.0,125.8 315.8,135.0 315.0,145.0C314.2,155.0 299.2,168.3 295.0,180.0C290.8,191.7 289.2,205.0 290.0,215.0C290.8,225.0 302.5,231.7 300.0,240.0C297.5,248.3 280.8,254.2 275.0,265.0C269.2,275.8 296.2,293.3 265.0,305.0C233.8,316.7 114.7,344.2 88.0,335.0C61.3,325.8 98.7,295.0 105.0,250.0C111.3,205.0 114.3,100.0 126.0,65.0Z" fill="#adf78a"/>
<ellipse cx="150" cy="180" rx="14" ry="24" fill="#19efef"/>
<path d="M110.0,240.0C115.3,231.0 140.3,230.3 150.0,232.0C159.7,233.7 166.3,242.8 168.0,250.0C169.7,257.2 168.3,269.0 160.0,275.0C151.7,281.0 126.3,291.8 118.0,286.0C109.7,280.2 104.7,249.0 110.0,240.0Z" fill="#19efef"/>
<path d="M190.0,275.0C190.0,267.3 206.7,244.2 215.0,235.0C223.3,225.8 231.5,220.5 240.0,220.0C248.5,219.5 264.3,226.2 266.0,232.0C267.7,237.8 258.5,246.8 250.0,255.0C241.5,263.2 225.0,277.7 215.0,281.0C205.0,284.3 190.0,282.7 190.0,275.0Z" fill="#fff500"/>
</g>
</g></g>
<polygon points="121.7,148.1 152.3,141.1 144.9,215.3 115.6,218.2" fill="none" stroke="#8a8a6a" stroke-width="0.5" stroke-opacity="0.8"/>
<!-- map i -->
<clipPath id="cp_i"><polygon points="210.4,148.3 241.0,141.3 233.6,215.5 204.3,218.4"/></clipPath>
<g clip-path="url(#cp_i)">
<g filter="url(#soft)">
<rect x="194.3" y="131.3" width="60" height="100" fill="#ff0000"/>
<g transform="translate(197 140) scale(0.11765)">
<path d="M95.0,65.0C144.7,29.7 342.5,0.8 390.0,0.0C437.5,-0.8 384.7,43.3 380.0,60.0C375.3,76.7 366.0,83.3 362.0,100.0C358.0,116.7 361.3,147.5 356.0,160.0C350.7,172.5 341.0,171.7 330.0,175.0C319.0,178.3 303.3,178.3 290.0,180.0C276.7,181.7 262.5,181.7 250.0,185.0C237.5,188.3 225.0,198.3 215.0,200.0C205.0,201.7 199.2,198.3 190.0,195.0C180.8,191.7 170.0,181.7 160.0,180.0C150.0,178.3 141.3,179.7 130.0,185.0C118.7,190.3 97.8,232.0 92.0,212.0C86.2,192.0 45.3,100.3 95.0,65.0Z" fill="#ff8f00"/>
<path d="M325.0,70.0C329.2,64.2 336.2,59.2 345.0,60.0C353.8,60.8 374.2,67.5 378.0,75.0C381.8,82.5 372.7,96.7 368.0,105.0C363.3,113.3 355.5,125.8 350.0,125.0C344.5,124.2 340.0,105.0 335.0,100.0C330.0,95.0 321.7,100.0 320.0,95.0C318.3,90.0 320.8,75.8 325.0,70.0Z" fill="#ff0000"/>
<ellipse cx="215" cy="98" rx="60" ry="44" fill="#fff500" transform="rotate(-20 215 98)"/>
<ellipse cx="218" cy="95" rx="38" ry="29" fill="#adf78a" transform="rotate(-25 218 95)"/>
<ellipse cx="222" cy="90" rx="18" ry="14" fill="#19efef" transform="rotate(-20 222 90)"/>
<ellipse cx="225" cy="88" rx="6" ry="5" fill="#3c7cf4"/>
<path d="M205.0,260.0C208.8,251.7 210.8,240.3 225.0,235.0C239.2,229.7 268.3,230.2 290.0,228.0C311.7,225.8 345.0,200.0 355.0,222.0C365.0,244.0 379.2,337.0 350.0,360.0C320.8,383.0 206.7,367.5 180.0,360.0C153.3,352.5 186.3,327.5 190.0,315.0C193.7,302.5 199.5,294.2 202.0,285.0C204.5,275.8 201.2,268.3 205.0,260.0Z" fill="#ff8f00"/>
</g>
<g transform="translate(192 180) scale(0.11765)">
<path d="M212.0,-8.0C242.0,-16.0 367.7,-20.2 395.0,-8.0C422.3,4.2 383.5,50.3 376.0,65.0C368.5,79.7 356.8,74.2 350.0,80.0C343.2,85.8 336.7,91.7 335.0,100.0C333.3,108.3 334.8,121.7 340.0,130.0C345.2,138.3 362.3,134.2 366.0,150.0C369.7,165.8 369.7,210.8 362.0,225.0C354.3,239.2 332.0,231.7 320.0,235.0C308.0,238.3 299.2,239.2 290.0,245.0C280.8,250.8 275.0,264.8 265.0,270.0C255.0,275.2 239.2,279.3 230.0,276.0C220.8,272.7 215.0,260.2 210.0,250.0C205.0,239.8 205.0,225.8 200.0,215.0C195.0,204.2 180.8,195.8 180.0,185.0C179.2,174.2 193.3,162.5 195.0,150.0C196.7,137.5 189.2,123.3 190.0,110.0C190.8,96.7 195.8,81.7 200.0,70.0C204.2,58.3 213.0,53.0 215.0,40.0C217.0,27.0 182.0,0.0 212.0,-8.0Z" fill="#ff8f00"/>
<ellipse cx="242" cy="102" rx="7" ry="7" fill="#fff500"/>
</g>
</g></g>
<polygon points="210.4,148.3 241.0,141.3 233.6,215.5 204.3,218.4" fill="none" stroke="#8a8a6a" stroke-width="0.5" stroke-opacity="0.8"/>
<!-- map j -->
<clipPath id="cp_j"><polygon points="298.9,148.1 329.5,141.1 322.1,215.3 292.8,218.2"/></clipPath>
<g clip-path="url(#cp_j)">
<g filter="url(#soft)">
<rect x="282.8" y="131.1" width="60" height="100" fill="#19efef"/>
<g transform="translate(285 140) scale(0.11765)">
<path d="M108.0,68.0C119.7,44.7 153.0,56.8 170.0,58.0C187.0,59.2 197.5,73.3 210.0,75.0C222.5,76.7 238.0,64.7 245.0,68.0C252.0,71.3 255.3,87.2 252.0,95.0C248.7,102.8 237.0,110.0 225.0,115.0C213.0,120.0 192.5,119.2 180.0,125.0C167.5,130.8 158.3,140.0 150.0,150.0C141.7,160.0 138.3,177.0 130.0,185.0C121.7,193.0 103.7,217.5 100.0,198.0C96.3,178.5 96.3,91.3 108.0,68.0Z" fill="#adf78a"/>
<ellipse cx="235" cy="80" rx="15" ry="12" fill="#fff500"/>
<ellipse cx="165" cy="120" rx="10" ry="8" fill="#fff500"/>
<ellipse cx="121" cy="155" rx="8" ry="18" fill="#fff500"/>
<ellipse cx="315" cy="160" rx="5" ry="5" fill="#fff500"/>
<path d="M290.0,70.0C292.5,59.2 293.3,46.7 310.0,35.0C326.7,23.3 378.3,-12.5 390.0,0.0C401.7,12.5 385.7,86.7 380.0,110.0C374.3,133.3 364.3,134.0 356.0,140.0C347.7,146.0 337.7,148.5 330.0,146.0C322.3,143.5 315.8,132.7 310.0,125.0C304.2,117.3 298.3,109.2 295.0,100.0C291.7,90.8 287.5,80.8 290.0,70.0Z" fill="#3c7cf4"/>
<ellipse cx="335" cy="90" rx="28" ry="22" fill="#19efef"/>
<ellipse cx="370" cy="40" rx="8" ry="12" fill="#0000e0"/>
<path d="M260.0,230.0C262.5,224.2 279.2,216.7 290.0,215.0C300.8,213.3 318.2,215.8 325.0,220.0C331.8,224.2 335.2,234.8 331.0,240.0C326.8,245.2 309.3,249.3 300.0,251.0C290.7,252.7 281.7,253.5 275.0,250.0C268.3,246.5 257.5,235.8 260.0,230.0Z" fill="#3c7cf4"/>
<path d="M100.0,222.0C107.5,203.7 124.0,232.0 130.0,240.0C136.0,248.0 136.8,260.0 136.0,270.0C135.2,280.0 124.3,290.0 125.0,300.0C125.7,310.0 135.5,321.7 140.0,330.0C144.5,338.3 161.2,346.7 152.0,350.0C142.8,353.3 93.7,371.3 85.0,350.0C76.3,328.7 92.5,240.3 100.0,222.0Z" fill="#3c7cf4"/>
<ellipse cx="114" cy="245" rx="8" ry="10" fill="#0000e0"/>
<ellipse cx="104" cy="328" rx="8" ry="10" fill="#0000e0"/>
<path d="M265.0,350.0C250.7,343.3 265.8,320.8 270.0,310.0C274.2,299.2 281.7,288.3 290.0,285.0C298.3,281.7 310.7,287.5 320.0,290.0C329.3,292.5 340.0,290.0 346.0,300.0C352.0,310.0 369.5,341.7 356.0,350.0C342.5,358.3 279.3,356.7 265.0,350.0Z" fill="#3c7cf4"/>
<ellipse cx="320" cy="337" rx="20" ry="10" fill="#0000e0"/>
<ellipse cx="200" cy="290" rx="18" ry="10" fill="#adf78a"/>
<ellipse cx="200" cy="290" rx="10" ry="6" fill="#fff500"/>
</g>
<g transform="translate(280 180) scale(0.11765)">
<path d="M120.0,-8.0C131.3,-19.3 175.8,-14.3 186.0,-8.0C196.2,-1.7 184.5,19.5 181.0,30.0C177.5,40.5 171.8,48.2 165.0,55.0C158.2,61.8 147.8,70.2 140.0,71.0C132.2,71.8 121.3,73.2 118.0,60.0C114.7,46.8 108.7,3.3 120.0,-8.0Z" fill="#3c7cf4"/>
<path d="M285.0,-8.0C300.8,-17.7 379.2,-43.5 395.0,-8.0C410.8,27.5 386.7,172.0 380.0,205.0C373.3,238.0 361.7,197.5 355.0,190.0C348.3,182.5 347.5,170.0 340.0,160.0C332.5,150.0 317.5,141.7 310.0,130.0C302.5,118.3 296.7,103.3 295.0,90.0C293.3,76.7 301.7,66.3 300.0,50.0C298.3,33.7 269.2,1.7 285.0,-8.0Z" fill="#3c7cf4"/>
<ellipse cx="365" cy="6" rx="20" ry="10" fill="#0000e0"/>
<ellipse cx="374" cy="75" rx="8" ry="12" fill="#0000e0"/>
<ellipse cx="352" cy="118" rx="12" ry="8" fill="#19efef"/>
<path d="M225.0,45.0C232.5,40.8 250.0,32.5 260.0,35.0C270.0,37.5 280.7,49.2 285.0,60.0C289.3,70.8 287.7,87.5 286.0,100.0C284.3,112.5 274.3,123.3 275.0,135.0C275.7,146.7 282.5,156.7 290.0,170.0C297.5,183.3 308.3,203.3 320.0,215.0C331.7,226.7 353.0,225.0 360.0,240.0C367.0,255.0 407.0,289.7 362.0,305.0C317.0,320.3 132.3,334.5 90.0,332.0C47.7,329.5 98.0,298.7 108.0,290.0C118.0,281.3 138.0,287.5 150.0,280.0C162.0,272.5 173.3,255.8 180.0,245.0C186.7,234.2 195.0,222.5 190.0,215.0C185.0,207.5 159.5,208.3 150.0,200.0C140.5,191.7 134.2,176.7 133.0,165.0C131.8,153.3 134.3,138.3 143.0,130.0C151.7,121.7 174.7,122.5 185.0,115.0C195.3,107.5 200.0,94.2 205.0,85.0C210.0,75.8 211.7,66.7 215.0,60.0C218.3,53.3 217.5,49.2 225.0,45.0Z" fill="#adf78a"/>
<ellipse cx="262" cy="65" rx="10" ry="7" fill="#fff500"/>
<ellipse cx="245" cy="95" rx="10" ry="8" fill="#fff500"/>
<path d="M190.0,270.0C191.7,265.0 205.0,256.7 215.0,255.0C225.0,253.3 241.2,255.0 250.0,260.0C258.8,265.0 266.0,278.3 268.0,285.0C270.0,291.7 267.5,297.7 262.0,300.0C256.5,302.3 244.5,301.5 235.0,299.0C225.5,296.5 212.5,289.8 205.0,285.0C197.5,280.2 188.3,275.0 190.0,270.0Z" fill="#fff500"/>
<ellipse cx="232" cy="268" rx="10" ry="8" fill="#ff8f00"/>
<ellipse cx="288" cy="262" rx="12" ry="9" fill="#19efef"/>
</g>
</g></g>
<polygon points="298.9,148.1 329.5,141.1 322.1,215.3 292.8,218.2" fill="none" stroke="#8a8a6a" stroke-width="0.5" stroke-opacity="0.8"/>
<!-- map k -->
<clipPath id="cp_k"><polygon points="389.9,148.1 420.5,141.1 413.1,215.3 383.8,218.2"/></clipPath>
<g clip-path="url(#cp_k)">
<g filter="url(#soft)">
<rect x="373.8" y="131.1" width="60" height="100" fill="#adf78a"/>
<g transform="translate(376 140) scale(0.11765)">
<path d="M165.0,115.0C167.5,107.5 175.0,94.2 185.0,85.0C195.0,75.8 210.8,66.7 225.0,60.0C239.2,53.3 256.7,46.7 270.0,45.0C283.3,43.3 297.3,45.0 305.0,50.0C312.7,55.0 318.5,67.5 316.0,75.0C313.5,82.5 300.2,89.2 290.0,95.0C279.8,100.8 263.3,103.3 255.0,110.0C246.7,116.7 249.2,129.8 240.0,135.0C230.8,140.2 211.7,141.8 200.0,141.0C188.3,140.2 175.8,134.3 170.0,130.0C164.2,125.7 162.5,122.5 165.0,115.0Z" fill="#19efef"/>
<ellipse cx="225" cy="90" rx="14" ry="9" fill="#3c7cf4" transform="rotate(-30 225 90)"/>
<ellipse cx="352" cy="95" rx="14" ry="12" fill="#fff500"/>
<ellipse cx="358" cy="135" rx="10" ry="9" fill="#19efef"/>
<ellipse cx="377" cy="30" rx="6" ry="15" fill="#19efef"/>
<ellipse cx="107" cy="152" rx="8" ry="12" fill="#19efef"/>
<ellipse cx="104" cy="240" rx="14" ry="16" fill="#19efef"/>
<path d="M290.0,275.0C293.3,270.3 305.8,262.8 315.0,262.0C324.2,261.2 338.8,263.7 345.0,270.0C351.2,276.3 356.2,294.8 352.0,300.0C347.8,305.2 329.5,302.7 320.0,301.0C310.5,299.3 300.0,294.3 295.0,290.0C290.0,285.7 286.7,279.7 290.0,275.0Z" fill="#fff500"/>
<path d="M85.0,332.0C91.3,323.2 110.0,316.8 123.0,312.0C136.0,307.2 150.5,303.7 163.0,303.0C175.5,302.3 188.8,303.8 198.0,308.0C207.2,312.2 212.7,321.0 218.0,328.0C223.3,335.0 225.8,348.0 230.0,350.0C234.2,352.0 234.2,343.3 243.0,340.0C251.8,336.7 269.7,330.8 283.0,330.0C296.3,329.2 309.3,332.5 323.0,335.0C336.7,337.5 358.0,340.0 365.0,345.0C372.0,350.0 411.7,361.7 365.0,365.0C318.3,368.3 131.7,370.5 85.0,365.0C38.3,359.5 78.7,340.8 85.0,332.0Z" fill="#fff500"/>
<ellipse cx="161" cy="338" rx="13" ry="26" fill="#ff8f00" transform="rotate(20 161 338)"/>
<ellipse cx="165" cy="328" rx="6" ry="5" fill="#ff0000"/>
</g>
<g transform="translate(371 180) scale(0.11765)">
<polygon points="80,0 400,0 400,340 80,340" fill="#fff500"/>
<path d="M155.0,40.0C156.7,32.5 165.0,22.5 175.0,20.0C185.0,17.5 205.0,20.0 215.0,25.0C225.0,30.0 233.3,41.7 235.0,50.0C236.7,58.3 231.7,69.8 225.0,75.0C218.3,80.2 205.0,82.7 195.0,81.0C185.0,79.3 171.7,71.8 165.0,65.0C158.3,58.2 153.3,47.5 155.0,40.0Z" fill="#ff8f00"/>
<ellipse cx="192" cy="48" rx="14" ry="10" fill="#ff0000"/>
<path d="M280.0,30.0C281.7,25.0 290.0,16.7 300.0,15.0C310.0,13.3 331.5,15.8 340.0,20.0C348.5,24.2 354.3,34.8 351.0,40.0C347.7,45.2 330.2,50.2 320.0,51.0C309.8,51.8 296.7,48.5 290.0,45.0C283.3,41.5 278.3,35.0 280.0,30.0Z" fill="#ff8f00"/>
<path d="M285.0,105.0C286.7,97.5 295.8,88.3 305.0,85.0C314.2,81.7 330.7,81.7 340.0,85.0C349.3,88.3 359.3,96.7 361.0,105.0C362.7,113.3 356.8,129.0 350.0,135.0C343.2,141.0 329.2,141.8 320.0,141.0C310.8,140.2 300.8,136.0 295.0,130.0C289.2,124.0 283.3,112.5 285.0,105.0Z" fill="#ff8f00"/>
<ellipse cx="322" cy="105" rx="5" ry="12" fill="#ff0000" transform="rotate(20 322 105)"/>
<path d="M155.0,170.0C156.7,161.7 167.5,155.8 175.0,150.0C182.5,144.2 190.7,137.5 200.0,135.0C209.3,132.5 226.8,130.8 231.0,135.0C235.2,139.2 227.7,150.8 225.0,160.0C222.3,169.2 220.0,182.3 215.0,190.0C210.0,197.7 203.3,204.3 195.0,206.0C186.7,207.7 171.7,206.0 165.0,200.0C158.3,194.0 153.3,178.3 155.0,170.0Z" fill="#ff8f00"/>
<ellipse cx="180" cy="180" rx="5" ry="5" fill="#ff0000"/>
<ellipse cx="300" cy="185" rx="18" ry="14" fill="#ff8f00"/>
<path d="M90.0,332.0C76.5,322.0 107.5,276.2 115.0,260.0C122.5,243.8 126.7,242.5 135.0,235.0C143.3,227.5 154.2,218.3 165.0,215.0C175.8,211.7 191.5,211.7 200.0,215.0C208.5,218.3 216.0,227.5 216.0,235.0C216.0,242.5 204.3,250.8 200.0,260.0C195.7,269.2 190.7,280.0 190.0,290.0C189.3,300.0 212.7,313.0 196.0,320.0C179.3,327.0 103.5,342.0 90.0,332.0Z" fill="#ff8f00"/>
<path d="M270.0,260.0C276.7,253.3 288.3,250.0 300.0,245.0C311.7,240.0 328.3,234.5 340.0,230.0C351.7,225.5 366.3,205.5 370.0,218.0C373.7,230.5 378.7,289.0 362.0,305.0C345.3,321.0 287.0,317.3 270.0,314.0C253.0,310.7 260.0,294.0 260.0,285.0C260.0,276.0 263.3,266.7 270.0,260.0Z" fill="#ff8f00"/>
<ellipse cx="198" cy="3" rx="8" ry="6" fill="#ff8f00"/>
<ellipse cx="258" cy="75" rx="28" ry="30" fill="#adf78a"/>
<ellipse cx="258" cy="75" rx="18" ry="20" fill="#19efef"/>
<ellipse cx="260" cy="72" rx="6" ry="6" fill="#3c7cf4"/>
<ellipse cx="240" cy="175" rx="32" ry="38" fill="#adf78a" transform="rotate(10 240 175)"/>
<ellipse cx="240" cy="176" rx="24" ry="30" fill="#19efef" transform="rotate(10 240 176)"/>
<ellipse cx="240" cy="178" rx="16" ry="20" fill="#3c7cf4" transform="rotate(10 240 178)"/>
<ellipse cx="238" cy="183" rx="9" ry="10" fill="#0000e0"/>
<ellipse cx="228" cy="270" rx="28" ry="28" fill="#adf78a"/>
<ellipse cx="228" cy="270" rx="17" ry="17" fill="#19efef"/>
<ellipse cx="230" cy="272" rx="6" ry="6" fill="#3c7cf4"/>
<ellipse cx="140" cy="130" rx="12" ry="8" fill="#adf78a"/>
<ellipse cx="362" cy="60" rx="10" ry="8" fill="#adf78a"/>
<ellipse cx="360" cy="175" rx="8" ry="10" fill="#adf78a"/>
<ellipse cx="258" cy="25" rx="12" ry="8" fill="#adf78a"/>
<ellipse cx="130" cy="85" rx="7" ry="6" fill="#adf78a"/>
</g>
</g></g>
<polygon points="389.9,148.1 420.5,141.1 413.1,215.3 383.8,218.2" fill="none" stroke="#8a8a6a" stroke-width="0.5" stroke-opacity="0.8"/>
<!-- map l -->
<clipPath id="cp_l"><polygon points="479.7,148.4 510.3,141.4 502.9,215.6 473.6,218.5"/></clipPath>
<g clip-path="url(#cp_l)">
<g filter="url(#soft)">
<rect x="463.6" y="131.4" width="60" height="100" fill="#3c7cf4"/>
<g transform="translate(466 140) scale(0.11765)">
<path d="M100.0,72.0C117.0,57.5 176.7,69.0 200.0,65.0C223.3,61.0 223.3,52.5 240.0,48.0C256.7,43.5 286.5,34.3 300.0,38.0C313.5,41.7 321.0,62.2 321.0,70.0C321.0,77.8 309.3,80.8 300.0,85.0C290.7,89.2 275.8,87.5 265.0,95.0C254.2,102.5 243.3,121.0 235.0,130.0C226.7,139.0 229.2,145.8 215.0,149.0C200.8,152.2 169.5,148.5 150.0,149.0C130.5,149.5 106.3,164.8 98.0,152.0C89.7,139.2 83.0,86.5 100.0,72.0Z" fill="#19efef"/>
</g>
<g transform="translate(464 160) scale(0.11765)">
<path d="M400.0,5.0C395.8,-42.5 384.2,10.5 375.0,15.0C365.8,19.5 355.8,23.5 345.0,32.0C334.2,40.5 322.5,53.0 310.0,66.0C297.5,79.0 280.8,96.0 270.0,110.0C259.2,124.0 252.5,137.5 245.0,150.0C237.5,162.5 231.5,175.0 225.0,185.0C218.5,195.0 205.8,203.2 206.0,210.0C206.2,216.8 218.7,220.2 226.0,226.0C233.3,231.8 242.7,237.7 250.0,245.0C257.3,252.3 263.3,261.7 270.0,270.0C276.7,278.3 281.7,288.3 290.0,295.0C298.3,301.7 308.3,308.2 320.0,310.0C331.7,311.8 346.7,307.7 360.0,306.0C373.3,304.3 393.3,350.2 400.0,300.0C406.7,249.8 404.2,52.5 400.0,5.0Z" fill="#0000e0"/>
</g>
<g transform="translate(461 180) scale(0.11765)">
<ellipse cx="347" cy="205" rx="22" ry="25" fill="#0000e0"/>
<ellipse cx="347" cy="285" rx="15" ry="18" fill="#0000e0"/>
<ellipse cx="132" cy="290" rx="20" ry="16" fill="#0000e0"/>
<ellipse cx="242" cy="103" rx="5" ry="5" fill="#19efef"/>
<ellipse cx="225" cy="308" rx="14" ry="6" fill="#19efef"/>
</g>
</g></g>
<polygon points="479.7,148.4 510.3,141.4 502.9,215.6 473.6,218.5" fill="none" stroke="#8a8a6a" stroke-width="0.5" stroke-opacity="0.8"/>
<text x="14.1" y="29.5" textLength="74.9" lengthAdjust="spacingAndGlyphs" class="tt"><tspan font-style="italic">a)</tspan><tspan> P</tspan><tspan font-size="4.5" dy="1.1">M3</tspan><tspan dy="-1.1"> (mg kg</tspan><tspan font-size="4.5" dy="-2.7">-1</tspan><tspan dy="2.7">; 0-5 cm)</tspan></text>
<text x="106.8" y="29.5" textLength="73.2" lengthAdjust="spacingAndGlyphs" class="tt"><tspan font-style="italic">b)</tspan><tspan> (P/Al)</tspan><tspan font-size="4.5" dy="1.1">M3</tspan><tspan dy="-1.1"> (%; 0-5 cm)</tspan></text>
<text x="192.6" y="29.5" textLength="77.9" lengthAdjust="spacingAndGlyphs" class="tt"><tspan font-style="italic">c)</tspan><tspan> Al</tspan><tspan font-size="4.5" dy="1.1">M3</tspan><tspan dy="-1.1"> (mg kg</tspan><tspan font-size="4.5" dy="-2.7">-1</tspan><tspan dy="2.7">; 0-5 cm)</tspan></text>
<text x="285" y="29.5" textLength="68" lengthAdjust="spacingAndGlyphs" class="tt"><tspan font-style="italic">d)</tspan><tspan> TC (g kg</tspan><tspan font-size="4.5" dy="-2.7">-1</tspan><tspan dy="2.7">; 0-5 cm)</tspan></text>
<text x="369" y="29.5" textLength="78" lengthAdjust="spacingAndGlyphs" class="tt"><tspan font-style="italic">e)</tspan><tspan> Fe</tspan><tspan font-size="4.5" dy="1.1">M3</tspan><tspan dy="-1.1"> (mg kg</tspan><tspan font-size="4.5" dy="-2.7">-1</tspan><tspan dy="2.7">; 0-5 cm)</tspan></text>
<text x="458.7" y="29.5" textLength="78.9" lengthAdjust="spacingAndGlyphs" class="tt"><tspan font-style="italic">f)</tspan><tspan> Ca</tspan><tspan font-size="4.5" dy="1.1">M3</tspan><tspan dy="-1.1"> (mg kg</tspan><tspan font-size="4.5" dy="-2.7">-1</tspan><tspan dy="2.7">; 0-5 cm)</tspan></text>
<text x="12.3" y="135.2" textLength="78.2" lengthAdjust="spacingAndGlyphs" class="tt"><tspan font-style="italic">g)</tspan><tspan> P</tspan><tspan font-size="4.5" dy="1.1">M3</tspan><tspan dy="-1.1"> (mg kg</tspan><tspan font-size="4.5" dy="-2.7">-1</tspan><tspan dy="2.7">; 5-20 cm)</tspan></text>
<text x="104" y="135.2" textLength="76.5" lengthAdjust="spacingAndGlyphs" class="tt"><tspan font-style="italic">h)</tspan><tspan> (P/Al)</tspan><tspan font-size="4.5" dy="1.1">M3</tspan><tspan dy="-1.1"> (%; 5-20 cm)</tspan></text>
<text x="194" y="135.2" textLength="78" lengthAdjust="spacingAndGlyphs" class="tt"><tspan font-style="italic">i)</tspan><tspan> Al</tspan><tspan font-size="4.5" dy="1.1">M3</tspan><tspan dy="-1.1"> (mg kg</tspan><tspan font-size="4.5" dy="-2.7">-1</tspan><tspan dy="2.7">; 5-20 cm)</tspan></text>
<text x="286" y="135.2" textLength="71" lengthAdjust="spacingAndGlyphs" class="tt"><tspan font-style="italic">j)</tspan><tspan> TC (g kg</tspan><tspan font-size="4.5" dy="-2.7">-1</tspan><tspan dy="2.7">; 5-20 cm)</tspan></text>
<text x="366.4" y="135.2" textLength="81.6" lengthAdjust="spacingAndGlyphs" class="tt"><tspan font-style="italic">k)</tspan><tspan> Fe</tspan><tspan font-size="4.5" dy="1.1">M3</tspan><tspan dy="-1.1"> (mg kg</tspan><tspan font-size="4.5" dy="-2.7">-1</tspan><tspan dy="2.7">; 5-20 cm)</tspan></text>
<text x="457.6" y="135.2" textLength="81.1" lengthAdjust="spacingAndGlyphs" class="tt"><tspan font-style="italic">l)</tspan><tspan> Ca</tspan><tspan font-size="4.5" dy="1.1">M3</tspan><tspan dy="-1.1"> (mg kg</tspan><tspan font-size="4.5" dy="-2.7">-1</tspan><tspan dy="2.7">; 5-20 cm)</tspan></text>
<rect x="20.2" y="236.50" width="8.7" height="4.4" fill="#0000e6" stroke="#223" stroke-opacity="0.28" stroke-width="0.4"/>
<text class="lg" x="42.6" y="240.85" text-anchor="end" textLength="8.37" lengthAdjust="spacingAndGlyphs">35</text>
<text class="lg" x="47.3" y="239.90" text-anchor="middle" textLength="4.4" lengthAdjust="spacingAndGlyphs">&#8211;</text>
<text class="lg" x="52.6" y="240.85" textLength="8.37" lengthAdjust="spacingAndGlyphs">47</text>
<rect x="20.2" y="247.13" width="8.7" height="4.4" fill="#3c82f6" stroke="#223" stroke-opacity="0.28" stroke-width="0.4"/>
<text class="lg" x="42.6" y="251.48" text-anchor="end" textLength="8.37" lengthAdjust="spacingAndGlyphs">47</text>
<text class="lg" x="47.3" y="250.53" text-anchor="middle" textLength="4.4" lengthAdjust="spacingAndGlyphs">&#8211;</text>
<text class="lg" x="52.6" y="251.48" textLength="8.37" lengthAdjust="spacingAndGlyphs">59</text>
<rect x="20.2" y="257.76" width="8.7" height="4.4" fill="#00f5f5" stroke="#223" stroke-opacity="0.28" stroke-width="0.4"/>
<text class="lg" x="42.6" y="262.11" text-anchor="end" textLength="8.37" lengthAdjust="spacingAndGlyphs">59</text>
<text class="lg" x="47.3" y="261.16" text-anchor="middle" textLength="4.4" lengthAdjust="spacingAndGlyphs">&#8211;</text>
<text class="lg" x="52.6" y="262.11" textLength="8.37" lengthAdjust="spacingAndGlyphs">71</text>
<rect x="20.2" y="268.39" width="8.7" height="4.4" fill="#b0fa8c" stroke="#223" stroke-opacity="0.28" stroke-width="0.4"/>
<text class="lg" x="42.6" y="272.74" text-anchor="end" textLength="8.37" lengthAdjust="spacingAndGlyphs">71</text>
<text class="lg" x="47.3" y="271.79" text-anchor="middle" textLength="4.4" lengthAdjust="spacingAndGlyphs">&#8211;</text>
<text class="lg" x="52.6" y="272.74" textLength="8.37" lengthAdjust="spacingAndGlyphs">83</text>
<rect x="20.2" y="279.02" width="8.7" height="4.4" fill="#ffff00" stroke="#223" stroke-opacity="0.28" stroke-width="0.4"/>
<text class="lg" x="42.6" y="283.37" text-anchor="end" textLength="8.37" lengthAdjust="spacingAndGlyphs">83</text>
<text class="lg" x="47.3" y="282.42" text-anchor="middle" textLength="4.4" lengthAdjust="spacingAndGlyphs">&#8211;</text>
<text class="lg" x="52.6" y="283.37" textLength="8.37" lengthAdjust="spacingAndGlyphs">95</text>
<rect x="20.2" y="289.65" width="8.7" height="4.4" fill="#ff9000" stroke="#223" stroke-opacity="0.28" stroke-width="0.4"/>
<text class="lg" x="42.6" y="294.00" text-anchor="end" textLength="8.37" lengthAdjust="spacingAndGlyphs">95</text>
<text class="lg" x="47.3" y="293.05" text-anchor="middle" textLength="4.4" lengthAdjust="spacingAndGlyphs">&#8211;</text>
<text class="lg" x="52.6" y="294.00" textLength="12.55" lengthAdjust="spacingAndGlyphs">107</text>
<rect x="20.2" y="300.28" width="8.7" height="4.4" fill="#ff0000" stroke="#223" stroke-opacity="0.28" stroke-width="0.4"/>
<text class="lg" x="42.6" y="304.63" text-anchor="end" textLength="12.55" lengthAdjust="spacingAndGlyphs">107</text>
<text class="lg" x="47.3" y="303.68" text-anchor="middle" textLength="4.4" lengthAdjust="spacingAndGlyphs">&#8211;</text>
<text class="lg" x="52.6" y="304.63" textLength="12.55" lengthAdjust="spacingAndGlyphs">119</text>
<rect x="110.0" y="236.60" width="8.6" height="4.4" fill="#0000e6" stroke="#223" stroke-opacity="0.28" stroke-width="0.4"/>
<text class="lg" x="134.8" y="240.95" text-anchor="end" textLength="10.46" lengthAdjust="spacingAndGlyphs">2.0</text>
<text class="lg" x="139.8" y="240.00" text-anchor="middle" textLength="4.4" lengthAdjust="spacingAndGlyphs">&#8211;</text>
<text class="lg" x="144.2" y="240.95" textLength="10.46" lengthAdjust="spacingAndGlyphs">3.5</text>
<rect x="110.0" y="247.23" width="8.6" height="4.4" fill="#3c82f6" stroke="#223" stroke-opacity="0.28" stroke-width="0.4"/>
<text class="lg" x="134.8" y="251.58" text-anchor="end" textLength="10.46" lengthAdjust="spacingAndGlyphs">3.5</text>
<text class="lg" x="139.8" y="250.63" text-anchor="middle" textLength="4.4" lengthAdjust="spacingAndGlyphs">&#8211;</text>
<text class="lg" x="144.2" y="251.58" textLength="10.46" lengthAdjust="spacingAndGlyphs">5.0</text>
<rect x="110.0" y="257.86" width="8.6" height="4.4" fill="#00f5f5" stroke="#223" stroke-opacity="0.28" stroke-width="0.4"/>
<text class="lg" x="134.8" y="262.21" text-anchor="end" textLength="10.46" lengthAdjust="spacingAndGlyphs">5.0</text>
<text class="lg" x="139.8" y="261.26" text-anchor="middle" textLength="4.4" lengthAdjust="spacingAndGlyphs">&#8211;</text>
<text class="lg" x="144.2" y="262.21" textLength="10.46" lengthAdjust="spacingAndGlyphs">6.5</text>
<rect x="110.0" y="268.49" width="8.6" height="4.4" fill="#b0fa8c" stroke="#223" stroke-opacity="0.28" stroke-width="0.4"/>
<text class="lg" x="134.8" y="272.84" text-anchor="end" textLength="10.46" lengthAdjust="spacingAndGlyphs">6.5</text>
<text class="lg" x="139.8" y="271.89" text-anchor="middle" textLength="4.4" lengthAdjust="spacingAndGlyphs">&#8211;</text>
<text class="lg" x="144.2" y="272.84" textLength="10.46" lengthAdjust="spacingAndGlyphs">8.0</text>
<rect x="110.0" y="279.12" width="8.6" height="4.4" fill="#ffff00" stroke="#223" stroke-opacity="0.28" stroke-width="0.4"/>
<text class="lg" x="134.8" y="283.47" text-anchor="end" textLength="10.46" lengthAdjust="spacingAndGlyphs">8.0</text>
<text class="lg" x="139.8" y="282.52" text-anchor="middle" textLength="4.4" lengthAdjust="spacingAndGlyphs">&#8211;</text>
<text class="lg" x="144.2" y="283.47" textLength="10.46" lengthAdjust="spacingAndGlyphs">9.5</text>
<rect x="110.0" y="289.75" width="8.6" height="4.4" fill="#ff9000" stroke="#223" stroke-opacity="0.28" stroke-width="0.4"/>
<text class="lg" x="134.8" y="294.10" text-anchor="end" textLength="10.46" lengthAdjust="spacingAndGlyphs">9.5</text>
<text class="lg" x="139.8" y="293.15" text-anchor="middle" textLength="4.4" lengthAdjust="spacingAndGlyphs">&#8211;</text>
<text class="lg" x="144.2" y="294.10" textLength="14.64" lengthAdjust="spacingAndGlyphs">11.0</text>
<rect x="110.0" y="300.38" width="8.6" height="4.4" fill="#ff0000" stroke="#223" stroke-opacity="0.28" stroke-width="0.4"/>
<text class="lg" x="134.8" y="304.73" text-anchor="end" textLength="14.64" lengthAdjust="spacingAndGlyphs">11.0</text>
<text class="lg" x="139.8" y="303.78" text-anchor="middle" textLength="4.4" lengthAdjust="spacingAndGlyphs">&#8211;</text>
<text class="lg" x="144.2" y="304.73" textLength="14.64" lengthAdjust="spacingAndGlyphs">12.5</text>
<rect x="199.8" y="236.50" width="8.5" height="4.4" fill="#0000e6" stroke="#223" stroke-opacity="0.28" stroke-width="0.4"/>
<text class="lg" x="226.3" y="240.85" text-anchor="end" textLength="12.55" lengthAdjust="spacingAndGlyphs">380</text>
<text class="lg" x="231.5" y="239.90" text-anchor="middle" textLength="4.4" lengthAdjust="spacingAndGlyphs">&#8211;</text>
<text class="lg" x="236.3" y="240.85" textLength="12.55" lengthAdjust="spacingAndGlyphs">490</text>
<rect x="199.8" y="247.07" width="8.5" height="4.4" fill="#3c82f6" stroke="#223" stroke-opacity="0.28" stroke-width="0.4"/>
<text class="lg" x="226.3" y="251.42" text-anchor="end" textLength="12.55" lengthAdjust="spacingAndGlyphs">490</text>
<text class="lg" x="231.5" y="250.47" text-anchor="middle" textLength="4.4" lengthAdjust="spacingAndGlyphs">&#8211;</text>
<text class="lg" x="236.3" y="251.42" textLength="12.55" lengthAdjust="spacingAndGlyphs">600</text>
<rect x="199.8" y="257.64" width="8.5" height="4.4" fill="#00f5f5" stroke="#223" stroke-opacity="0.28" stroke-width="0.4"/>
<text class="lg" x="226.3" y="261.99" text-anchor="end" textLength="12.55" lengthAdjust="spacingAndGlyphs">600</text>
<text class="lg" x="231.5" y="261.04" text-anchor="middle" textLength="4.4" lengthAdjust="spacingAndGlyphs">&#8211;</text>
<text class="lg" x="236.3" y="261.99" textLength="12.55" lengthAdjust="spacingAndGlyphs">710</text>
<rect x="199.8" y="268.21" width="8.5" height="4.4" fill="#b0fa8c" stroke="#223" stroke-opacity="0.28" stroke-width="0.4"/>
<text class="lg" x="226.3" y="272.56" text-anchor="end" textLength="12.55" lengthAdjust="spacingAndGlyphs">710</text>
<text class="lg" x="231.5" y="271.61" text-anchor="middle" textLength="4.4" lengthAdjust="spacingAndGlyphs">&#8211;</text>
<text class="lg" x="236.3" y="272.56" textLength="12.55" lengthAdjust="spacingAndGlyphs">820</text>
<rect x="199.8" y="278.78" width="8.5" height="4.4" fill="#ffff00" stroke="#223" stroke-opacity="0.28" stroke-width="0.4"/>
<text class="lg" x="226.3" y="283.13" text-anchor="end" textLength="12.55" lengthAdjust="spacingAndGlyphs">820</text>
<text class="lg" x="231.5" y="282.18" text-anchor="middle" textLength="4.4" lengthAdjust="spacingAndGlyphs">&#8211;</text>
<text class="lg" x="236.3" y="283.13" textLength="12.55" lengthAdjust="spacingAndGlyphs">930</text>
<rect x="199.8" y="289.35" width="8.5" height="4.4" fill="#ff9000" stroke="#223" stroke-opacity="0.28" stroke-width="0.4"/>
<text class="lg" x="226.3" y="293.70" text-anchor="end" textLength="12.55" lengthAdjust="spacingAndGlyphs">930</text>
<text class="lg" x="231.5" y="292.75" text-anchor="middle" textLength="4.4" lengthAdjust="spacingAndGlyphs">&#8211;</text>
<text class="lg" x="236.3" y="293.70" textLength="16.74" lengthAdjust="spacingAndGlyphs">1040</text>
<rect x="199.8" y="299.92" width="8.5" height="4.4" fill="#ff0000" stroke="#223" stroke-opacity="0.28" stroke-width="0.4"/>
<text class="lg" x="226.3" y="304.27" text-anchor="end" textLength="16.74" lengthAdjust="spacingAndGlyphs">1040</text>
<text class="lg" x="231.5" y="303.32" text-anchor="middle" textLength="4.4" lengthAdjust="spacingAndGlyphs">&#8211;</text>
<text class="lg" x="236.3" y="304.27" textLength="16.74" lengthAdjust="spacingAndGlyphs">1150</text>
<rect x="292.3" y="237.00" width="8.7" height="4.4" fill="#0000e6" stroke="#223" stroke-opacity="0.28" stroke-width="0.4"/>
<text class="lg" x="311.1" y="241.35" text-anchor="end" textLength="8.37" lengthAdjust="spacingAndGlyphs">13</text>
<text class="lg" x="315.5" y="240.40" text-anchor="middle" textLength="4.4" lengthAdjust="spacingAndGlyphs">&#8211;</text>
<text class="lg" x="320.5" y="241.35" textLength="8.37" lengthAdjust="spacingAndGlyphs">15</text>
<rect x="292.3" y="247.47" width="8.7" height="4.4" fill="#3c82f6" stroke="#223" stroke-opacity="0.28" stroke-width="0.4"/>
<text class="lg" x="311.1" y="251.82" text-anchor="end" textLength="8.37" lengthAdjust="spacingAndGlyphs">15</text>
<text class="lg" x="315.5" y="250.87" text-anchor="middle" textLength="4.4" lengthAdjust="spacingAndGlyphs">&#8211;</text>
<text class="lg" x="320.5" y="251.82" textLength="8.37" lengthAdjust="spacingAndGlyphs">17</text>
<rect x="292.3" y="257.94" width="8.7" height="4.4" fill="#00f5f5" stroke="#223" stroke-opacity="0.28" stroke-width="0.4"/>
<text class="lg" x="311.1" y="262.29" text-anchor="end" textLength="8.37" lengthAdjust="spacingAndGlyphs">17</text>
<text class="lg" x="315.5" y="261.34" text-anchor="middle" textLength="4.4" lengthAdjust="spacingAndGlyphs">&#8211;</text>
<text class="lg" x="320.5" y="262.29" textLength="8.37" lengthAdjust="spacingAndGlyphs">19</text>
<rect x="292.3" y="268.41" width="8.7" height="4.4" fill="#b0fa8c" stroke="#223" stroke-opacity="0.28" stroke-width="0.4"/>
<text class="lg" x="311.1" y="272.76" text-anchor="end" textLength="8.37" lengthAdjust="spacingAndGlyphs">19</text>
<text class="lg" x="315.5" y="271.81" text-anchor="middle" textLength="4.4" lengthAdjust="spacingAndGlyphs">&#8211;</text>
<text class="lg" x="320.5" y="272.76" textLength="8.37" lengthAdjust="spacingAndGlyphs">21</text>
<rect x="292.3" y="278.88" width="8.7" height="4.4" fill="#ffff00" stroke="#223" stroke-opacity="0.28" stroke-width="0.4"/>
<text class="lg" x="311.1" y="283.23" text-anchor="end" textLength="8.37" lengthAdjust="spacingAndGlyphs">21</text>
<text class="lg" x="315.5" y="282.28" text-anchor="middle" textLength="4.4" lengthAdjust="spacingAndGlyphs">&#8211;</text>
<text class="lg" x="320.5" y="283.23" textLength="8.37" lengthAdjust="spacingAndGlyphs">23</text>
<rect x="292.3" y="289.35" width="8.7" height="4.4" fill="#ff9000" stroke="#223" stroke-opacity="0.28" stroke-width="0.4"/>
<text class="lg" x="311.1" y="293.70" text-anchor="end" textLength="8.37" lengthAdjust="spacingAndGlyphs">23</text>
<text class="lg" x="315.5" y="292.75" text-anchor="middle" textLength="4.4" lengthAdjust="spacingAndGlyphs">&#8211;</text>
<text class="lg" x="320.5" y="293.70" textLength="8.37" lengthAdjust="spacingAndGlyphs">25</text>
<rect x="292.3" y="299.82" width="8.7" height="4.4" fill="#ff0000" stroke="#223" stroke-opacity="0.28" stroke-width="0.4"/>
<text class="lg" x="311.1" y="304.17" text-anchor="end" textLength="8.37" lengthAdjust="spacingAndGlyphs">25</text>
<text class="lg" x="315.5" y="303.22" text-anchor="middle" textLength="4.4" lengthAdjust="spacingAndGlyphs">&#8211;</text>
<text class="lg" x="320.5" y="304.17" textLength="8.37" lengthAdjust="spacingAndGlyphs">27</text>
<rect x="378.7" y="237.40" width="8.4" height="4.4" fill="#0000e6" stroke="#223" stroke-opacity="0.28" stroke-width="0.4"/>
<text class="lg" x="401.1" y="241.75" text-anchor="end" textLength="8.37" lengthAdjust="spacingAndGlyphs">50</text>
<text class="lg" x="405.6" y="240.80" text-anchor="middle" textLength="4.4" lengthAdjust="spacingAndGlyphs">&#8211;</text>
<text class="lg" x="410.4" y="241.75" textLength="12.55" lengthAdjust="spacingAndGlyphs">125</text>
<rect x="378.7" y="247.68" width="8.4" height="4.4" fill="#3c82f6" stroke="#223" stroke-opacity="0.28" stroke-width="0.4"/>
<text class="lg" x="401.1" y="252.03" text-anchor="end" textLength="12.55" lengthAdjust="spacingAndGlyphs">125</text>
<text class="lg" x="405.6" y="251.08" text-anchor="middle" textLength="4.4" lengthAdjust="spacingAndGlyphs">&#8211;</text>
<text class="lg" x="410.4" y="252.03" textLength="12.55" lengthAdjust="spacingAndGlyphs">200</text>
<rect x="378.7" y="257.96" width="8.4" height="4.4" fill="#00f5f5" stroke="#223" stroke-opacity="0.28" stroke-width="0.4"/>
<text class="lg" x="401.1" y="262.31" text-anchor="end" textLength="12.55" lengthAdjust="spacingAndGlyphs">200</text>
<text class="lg" x="405.6" y="261.36" text-anchor="middle" textLength="4.4" lengthAdjust="spacingAndGlyphs">&#8211;</text>
<text class="lg" x="410.4" y="262.31" textLength="12.55" lengthAdjust="spacingAndGlyphs">275</text>
<rect x="378.7" y="268.24" width="8.4" height="4.4" fill="#b0fa8c" stroke="#223" stroke-opacity="0.28" stroke-width="0.4"/>
<text class="lg" x="401.1" y="272.59" text-anchor="end" textLength="12.55" lengthAdjust="spacingAndGlyphs">275</text>
<text class="lg" x="405.6" y="271.64" text-anchor="middle" textLength="4.4" lengthAdjust="spacingAndGlyphs">&#8211;</text>
<text class="lg" x="410.4" y="272.59" textLength="12.55" lengthAdjust="spacingAndGlyphs">350</text>
<rect x="378.7" y="278.52" width="8.4" height="4.4" fill="#ffff00" stroke="#223" stroke-opacity="0.28" stroke-width="0.4"/>
<text class="lg" x="401.1" y="282.87" text-anchor="end" textLength="12.55" lengthAdjust="spacingAndGlyphs">350</text>
<text class="lg" x="405.6" y="281.92" text-anchor="middle" textLength="4.4" lengthAdjust="spacingAndGlyphs">&#8211;</text>
<text class="lg" x="410.4" y="282.87" textLength="12.55" lengthAdjust="spacingAndGlyphs">425</text>
<rect x="378.7" y="288.80" width="8.4" height="4.4" fill="#ff9000" stroke="#223" stroke-opacity="0.28" stroke-width="0.4"/>
<text class="lg" x="401.1" y="293.15" text-anchor="end" textLength="12.55" lengthAdjust="spacingAndGlyphs">425</text>
<text class="lg" x="405.6" y="292.20" text-anchor="middle" textLength="4.4" lengthAdjust="spacingAndGlyphs">&#8211;</text>
<text class="lg" x="410.4" y="293.15" textLength="12.55" lengthAdjust="spacingAndGlyphs">500</text>
<rect x="378.7" y="299.08" width="8.4" height="4.4" fill="#ff0000" stroke="#223" stroke-opacity="0.28" stroke-width="0.4"/>
<text class="lg" x="401.1" y="303.43" text-anchor="end" textLength="12.55" lengthAdjust="spacingAndGlyphs">500</text>
<text class="lg" x="405.6" y="302.48" text-anchor="middle" textLength="4.4" lengthAdjust="spacingAndGlyphs">&#8211;</text>
<text class="lg" x="410.4" y="303.43" textLength="12.55" lengthAdjust="spacingAndGlyphs">575</text>
<rect x="466.2" y="238.10" width="8.4" height="4.4" fill="#0000e6" stroke="#223" stroke-opacity="0.28" stroke-width="0.4"/>
<text class="lg" x="492.4" y="242.45" text-anchor="end" textLength="16.74" lengthAdjust="spacingAndGlyphs">1600</text>
<text class="lg" x="497.2" y="241.50" text-anchor="middle" textLength="4.4" lengthAdjust="spacingAndGlyphs">&#8211;</text>
<text class="lg" x="502.3" y="242.45" textLength="16.74" lengthAdjust="spacingAndGlyphs">2020</text>
<rect x="466.2" y="248.38" width="8.4" height="4.4" fill="#3c82f6" stroke="#223" stroke-opacity="0.28" stroke-width="0.4"/>
<text class="lg" x="492.4" y="252.73" text-anchor="end" textLength="16.74" lengthAdjust="spacingAndGlyphs">2020</text>
<text class="lg" x="497.2" y="251.78" text-anchor="middle" textLength="4.4" lengthAdjust="spacingAndGlyphs">&#8211;</text>
<text class="lg" x="502.3" y="252.73" textLength="16.74" lengthAdjust="spacingAndGlyphs">2440</text>
<rect x="466.2" y="258.66" width="8.4" height="4.4" fill="#00f5f5" stroke="#223" stroke-opacity="0.28" stroke-width="0.4"/>
<text class="lg" x="492.4" y="263.01" text-anchor="end" textLength="16.74" lengthAdjust="spacingAndGlyphs">2440</text>
<text class="lg" x="497.2" y="262.06" text-anchor="middle" textLength="4.4" lengthAdjust="spacingAndGlyphs">&#8211;</text>
<text class="lg" x="502.3" y="263.01" textLength="16.74" lengthAdjust="spacingAndGlyphs">2860</text>
<rect x="466.2" y="268.94" width="8.4" height="4.4" fill="#b0fa8c" stroke="#223" stroke-opacity="0.28" stroke-width="0.4"/>
<text class="lg" x="492.4" y="273.29" text-anchor="end" textLength="16.74" lengthAdjust="spacingAndGlyphs">2860</text>
<text class="lg" x="497.2" y="272.34" text-anchor="middle" textLength="4.4" lengthAdjust="spacingAndGlyphs">&#8211;</text>
<text class="lg" x="502.3" y="273.29" textLength="16.74" lengthAdjust="spacingAndGlyphs">3280</text>
<rect x="466.2" y="279.22" width="8.4" height="4.4" fill="#ffff00" stroke="#223" stroke-opacity="0.28" stroke-width="0.4"/>
<text class="lg" x="492.4" y="283.57" text-anchor="end" textLength="16.74" lengthAdjust="spacingAndGlyphs">3280</text>
<text class="lg" x="497.2" y="282.62" text-anchor="middle" textLength="4.4" lengthAdjust="spacingAndGlyphs">&#8211;</text>
<text class="lg" x="502.3" y="283.57" textLength="16.74" lengthAdjust="spacingAndGlyphs">3700</text>
<rect x="466.2" y="289.50" width="8.4" height="4.4" fill="#ff9000" stroke="#223" stroke-opacity="0.28" stroke-width="0.4"/>
<text class="lg" x="492.4" y="293.85" text-anchor="end" textLength="16.74" lengthAdjust="spacingAndGlyphs">3700</text>
<text class="lg" x="497.2" y="292.90" text-anchor="middle" textLength="4.4" lengthAdjust="spacingAndGlyphs">&#8211;</text>
<text class="lg" x="502.3" y="293.85" textLength="16.74" lengthAdjust="spacingAndGlyphs">4120</text>
<rect x="466.2" y="299.78" width="8.4" height="4.4" fill="#ff0000" stroke="#223" stroke-opacity="0.28" stroke-width="0.4"/>
<text class="lg" x="492.4" y="304.13" text-anchor="end" textLength="16.74" lengthAdjust="spacingAndGlyphs">4120</text>
<text class="lg" x="497.2" y="303.18" text-anchor="middle" textLength="4.4" lengthAdjust="spacingAndGlyphs">&#8211;</text>
<text class="lg" x="502.3" y="304.13" textLength="16.74" lengthAdjust="spacingAndGlyphs">4540</text>
<path d="M3.7,5.8 H544.5 V335 H3.7 Z" fill="none" stroke="#3a3a3a" stroke-width="1.3"/>
<path d="M3.2,335.2 H545.2" stroke="#3a3a3a" stroke-width="2.2"/>
<path d="M544.5,5.8 V336" stroke="#3a3a3a" stroke-width="1.7"/>
<polygon points="529.5,299.3 535.3,316.3 529.5,312.2 523.6,316.3" fill="#000"/>
<text x="529.5" y="295.9" text-anchor="middle" font-family="'Liberation Serif',serif" font-size="5.6" fill="#222">N</text>
<rect x="465.6" y="322.5" width="41.5" height="4.9" fill="#fff" stroke="#000" stroke-width="0.7"/>
<rect x="465.6" y="322.5" width="10.5" height="2.5" fill="#000"/>
<rect x="476.1" y="324.9" width="10.2" height="2.5" fill="#000"/>
<rect x="486.3" y="322.5" width="20.8" height="2.5" fill="#000"/>
<text class="sc" x="465.6" y="319.6" text-anchor="middle">0</text>
<text class="sc" x="476" y="319.6" text-anchor="middle">25</text>
<text class="sc" x="486.4" y="319.6" text-anchor="middle">50</text>
<text class="sc" x="507.2" y="319.6" text-anchor="middle">100</text>
<text x="508.5" y="327.2" font-family="'Liberation Sans',sans-serif" font-size="6.1" fill="#333">Meters</text>
</svg></body></html>
